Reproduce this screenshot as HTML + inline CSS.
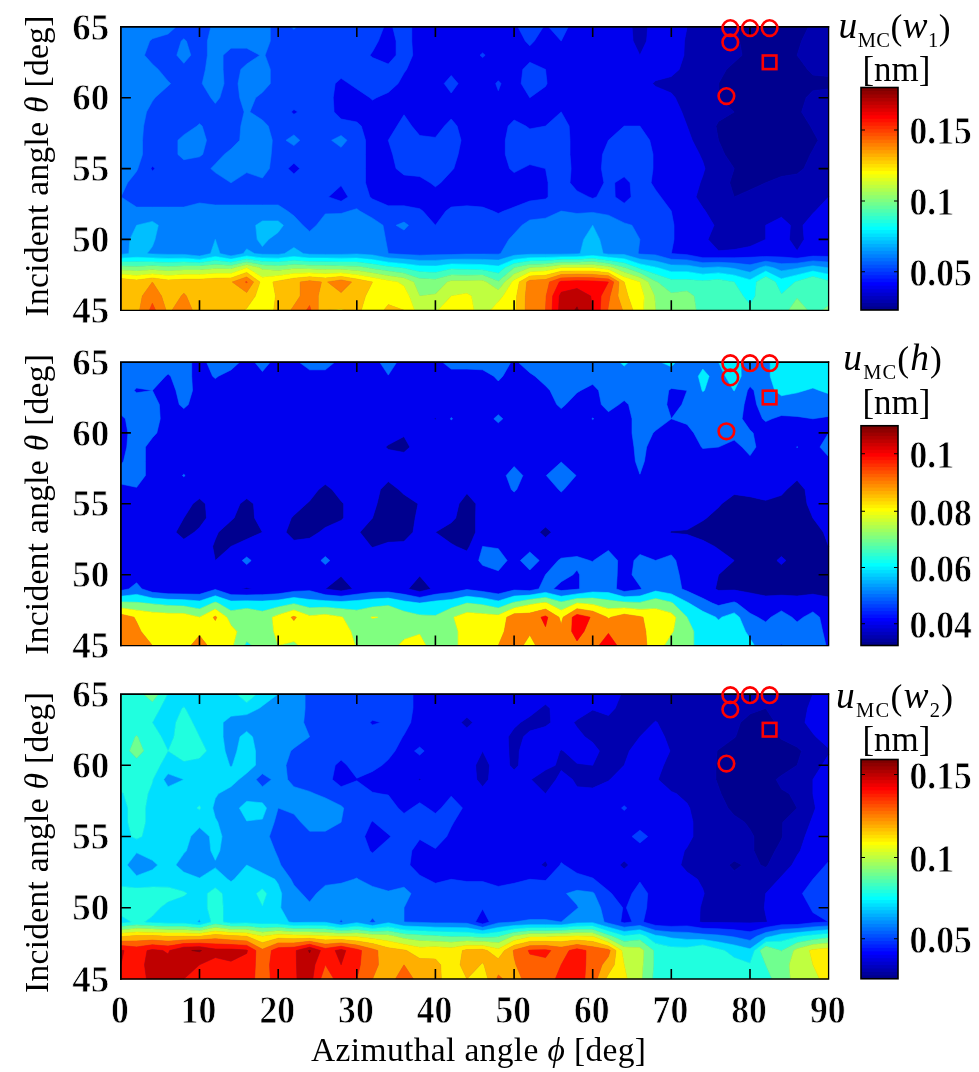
<!DOCTYPE html>
<html><head><meta charset="utf-8"><title>Uncertainty maps</title>
<style>html,body{margin:0;padding:0;background:#fff}svg{display:block}text{font-family:"Liberation Serif","Times New Roman",serif;fill:#000}.b{font-weight:bold;font-size:35.6px}.r{font-size:33.5px}.t{font-size:35px}.i{font-style:italic}.ti{font-style:italic;font-size:37.5px}</style></head><body>
<svg width="979" height="1072" viewBox="0 0 979 1072">
<rect width="979" height="1072" fill="#fff"/>
<g id="plot1">
<rect x="120.9" y="26.9" width="707.7" height="283.40000000000003" fill="#0030ff"/>
<path fill="#00008f" stroke="#00008f" stroke-width="0.6" fill-rule="evenodd" d="M734.2,196.9L750.0,189.9L765.7,182.8L781.4,176.5L797.1,173.9L803.9,168.6L810.3,154.4L812.9,149.7L818.1,140.3L812.9,130.8L810.3,126.1L801.6,111.9L806.1,97.7L812.9,90.7L828.6,88.9L828.6,83.6L828.6,76.5L812.9,75.1L807.6,69.4L797.1,55.2L801.6,41.1L808.4,26.9L797.1,26.9L781.4,26.9L765.7,26.9L750.0,26.9L737.4,26.9L739.5,41.1L742.1,55.2L734.2,62.3L726.4,69.4L718.5,83.6L718.5,97.7L734.2,111.9L718.5,121.4L715.9,126.1L718.5,140.3L724.8,154.4L734.2,168.6L729.7,182.8Z"/>
<path fill="#0000af" stroke="#0000af" stroke-width="0.6" fill-rule="evenodd" d="M718.5,250.8L734.2,249.6L750.0,246.5L765.7,239.4L765.7,225.3L781.4,217.2L790.4,225.3L789.3,239.4L797.1,250.8L804.1,239.4L803.0,225.3L812.9,213.5L815.5,211.1L828.6,196.9L828.6,182.8L828.6,168.6L828.6,154.4L828.6,140.3L828.6,126.1L828.6,111.9L828.6,97.7L828.6,88.9L812.9,90.7L806.1,97.7L801.6,111.9L810.3,126.1L812.9,130.8L818.1,140.3L812.9,149.7L810.3,154.4L803.9,168.6L797.1,173.9L781.4,176.5L765.7,182.8L750.0,189.9L734.2,196.9L729.7,182.8L734.2,168.6L724.8,154.4L718.5,140.3L715.9,126.1L718.5,121.4L734.2,111.9L718.5,97.7L718.5,83.6L726.4,69.4L734.2,62.3L742.1,55.2L739.5,41.1L737.4,26.9L734.2,26.9L718.5,26.9L702.8,26.9L687.1,26.9L684.4,41.1L683.9,55.2L679.2,69.4L671.3,76.5L655.6,80.7L652.5,83.6L655.6,86.4L671.3,93.0L675.3,97.7L681.8,111.9L687.1,126.1L692.3,140.3L699.6,154.4L702.8,161.5L705.0,168.6L702.8,175.7L700.2,182.8L696.0,196.9L702.8,207.6L705.4,211.1L714.0,225.3L708.0,239.4ZM812.9,75.1L828.6,76.5L828.6,69.4L828.6,55.2L828.6,41.1L828.6,26.9L812.9,26.9L808.4,26.9L801.6,41.1L797.1,55.2L807.6,69.4ZM639.9,55.2L646.6,41.1L647.7,26.9L639.9,26.9L632.0,26.9L633.1,41.1Z"/>
<path fill="#0000ef" stroke="#0000ef" stroke-width="0.6" fill-rule="evenodd" d="M671.3,253.6L687.1,254.7L702.8,257.7L718.5,257.7L734.2,257.8L750.0,257.3L765.7,256.5L781.4,257.0L797.1,258.2L812.9,256.1L828.6,256.5L828.6,253.6L828.6,239.4L828.6,225.3L828.6,211.1L828.6,196.9L815.5,211.1L812.9,213.5L803.0,225.3L804.1,239.4L797.1,250.8L789.3,239.4L790.4,225.3L781.4,217.2L765.7,225.3L765.7,239.4L750.0,246.5L734.2,249.6L718.5,250.8L708.0,239.4L714.0,225.3L705.4,211.1L702.8,207.6L696.0,196.9L700.2,182.8L702.8,175.7L705.0,168.6L702.8,161.5L699.6,154.4L692.3,140.3L687.1,126.1L681.8,111.9L675.3,97.7L671.3,93.0L655.6,86.4L652.5,83.6L655.6,80.7L671.3,76.5L679.2,69.4L683.9,55.2L684.4,41.1L687.1,26.9L671.3,26.9L655.6,26.9L647.7,26.9L646.6,41.1L639.9,55.2L633.1,41.1L632.0,26.9L624.2,26.9L608.4,26.9L592.7,26.9L577.0,26.9L568.2,26.9L561.2,41.1L548.7,26.9L545.5,26.9L543.3,26.9L534.3,41.1L529.8,45.8L525.3,41.1L518.0,26.9L514.1,26.9L498.3,26.9L482.6,26.9L466.9,26.9L451.2,26.9L435.4,26.9L419.7,26.9L411.8,26.9L411.8,41.1L412.7,55.2L406.6,69.4L404.0,73.0L398.1,83.6L388.3,92.4L376.5,97.7L372.5,100.1L369.9,97.7L356.8,88.9L348.9,83.6L341.1,78.3L335.2,83.6L333.2,97.7L334.1,111.9L341.1,119.0L356.8,122.0L361.3,126.1L365.5,140.3L365.5,154.4L365.5,168.6L365.5,182.8L369.9,196.9L372.5,199.0L388.3,205.8L404.0,205.8L419.7,208.7L422.9,211.1L435.4,225.3L445.9,211.1L451.2,207.1L466.9,205.8L482.6,207.1L493.1,211.1L498.3,213.5L503.6,211.1L514.1,207.1L529.8,201.0L545.5,199.0L548.1,196.9L548.1,182.8L545.5,168.6L529.8,164.6L521.9,168.6L514.1,172.6L509.6,168.6L505.3,154.4L505.3,140.3L508.2,126.1L514.1,120.0L525.9,126.1L529.8,128.9L545.5,126.1L561.2,111.9L569.1,126.1L570.0,140.3L570.0,154.4L571.1,168.6L570.0,182.8L577.0,190.9L588.8,196.9L592.7,198.4L596.6,196.9L603.9,182.8L601.4,168.6L602.5,154.4L608.4,140.3L624.2,126.1L639.9,126.1L649.7,140.3L653.0,154.4L653.0,168.6L651.1,182.8L655.6,189.9L660.8,196.9L671.3,211.1L674.0,225.3L674.0,239.4L671.3,253.6ZM430.2,182.8L419.7,176.5L404.0,174.9L396.1,168.6L392.7,154.4L388.3,140.3L397.0,126.1L404.0,114.8L411.8,126.1L419.7,135.5L435.4,137.4L444.4,126.1L451.2,119.0L457.1,126.1L461.0,140.3L458.1,154.4L453.8,168.6L451.2,171.4L440.7,182.8L435.4,186.8ZM444.2,83.6L451.2,75.5L458.1,83.6L451.2,93.0ZM495.7,83.6L498.3,80.7L501.0,83.6L498.3,90.7ZM521.2,83.6L522.8,69.4L529.8,62.3L545.5,69.4L547.1,83.6L545.5,86.4L529.8,97.7ZM480.0,55.2L482.6,52.9L485.2,55.2L482.6,57.6ZM341.1,201.3L348.1,196.9L341.1,185.6L328.5,196.9ZM624.2,203.2L631.1,196.9L630.1,182.8L624.2,176.7L614.7,182.8L615.2,196.9ZM152.4,171.0L155.0,168.6L152.4,166.2L151.0,168.6ZM293.9,173.9L299.8,168.6L293.9,163.3L288.0,168.6ZM293.9,114.3L297.8,111.9L293.9,109.6L291.3,111.9ZM372.5,57.6L388.3,64.1L396.1,55.2L396.1,41.1L392.7,26.9L388.3,26.9L383.8,26.9L378.4,41.1L372.5,51.7L369.9,55.2Z"/>
<path fill="#0040ff" stroke="#0040ff" stroke-width="0.6" fill-rule="evenodd" d="M388.3,253.6L404.0,254.5L419.7,255.2L435.4,254.8L451.2,254.6L466.9,254.1L482.6,254.1L498.3,254.2L500.6,253.6L508.8,239.4L514.1,233.8L521.9,225.3L529.8,220.0L545.5,218.2L561.2,211.1L577.0,213.5L592.7,212.4L608.4,215.2L624.2,222.9L632.0,225.3L639.9,239.4L638.1,253.6L639.9,254.1L655.6,254.9L671.3,259.3L687.1,259.9L702.8,262.7L718.5,262.3L734.2,263.1L750.0,264.8L765.7,261.2L781.4,263.7L797.1,263.2L812.9,260.9L828.6,262.1L828.6,256.5L812.9,256.1L797.1,258.2L781.4,257.0L765.7,256.5L750.0,257.3L734.2,257.8L718.5,257.7L702.8,257.7L687.1,254.7L671.3,253.6L674.0,239.4L674.0,225.3L671.3,211.1L660.8,196.9L655.6,189.9L651.1,182.8L653.0,168.6L653.0,154.4L649.7,140.3L639.9,126.1L624.2,126.1L608.4,140.3L602.5,154.4L601.4,168.6L603.9,182.8L596.6,196.9L592.7,198.4L588.8,196.9L577.0,190.9L570.0,182.8L571.1,168.6L570.0,154.4L570.0,140.3L569.1,126.1L561.2,111.9L545.5,126.1L529.8,128.9L525.9,126.1L514.1,120.0L508.2,126.1L505.3,140.3L505.3,154.4L509.6,168.6L514.1,172.6L521.9,168.6L529.8,164.6L545.5,168.6L548.1,182.8L548.1,196.9L545.5,199.0L529.8,201.0L514.1,207.1L503.6,211.1L498.3,213.5L493.1,211.1L482.6,207.1L466.9,205.8L451.2,207.1L445.9,211.1L435.4,225.3L422.9,211.1L419.7,208.7L404.0,205.8L388.3,205.8L372.5,199.0L369.9,196.9L365.5,182.8L365.5,168.6L365.5,154.4L365.5,140.3L361.3,126.1L356.8,122.0L341.1,119.0L334.1,111.9L333.2,97.7L335.2,83.6L341.1,78.3L348.9,83.6L356.8,88.9L369.9,97.7L372.5,100.1L376.5,97.7L388.3,92.4L398.1,83.6L404.0,73.0L406.6,69.4L412.7,55.2L411.8,41.1L411.8,26.9L404.0,26.9L392.7,26.9L396.1,41.1L396.1,55.2L388.3,64.1L372.5,57.6L369.9,55.2L372.5,51.7L378.4,41.1L383.8,26.9L372.5,26.9L356.8,26.9L341.1,26.9L325.3,26.9L309.6,26.9L296.5,26.9L293.9,29.3L291.3,26.9L278.2,26.9L270.3,26.9L270.3,41.1L265.1,55.2L270.3,69.4L270.3,83.6L262.4,92.4L255.7,97.7L249.9,111.9L262.4,120.0L268.3,126.1L272.3,140.3L271.2,154.4L269.4,168.6L262.4,178.0L246.7,172.6L231.0,182.8L215.3,172.6L210.8,168.6L215.3,163.9L224.2,154.4L231.0,149.1L239.7,140.3L240.8,126.1L244.1,111.9L239.7,97.7L238.0,83.6L240.8,69.4L246.7,64.1L259.8,55.2L246.7,48.2L231.0,48.2L223.1,55.2L223.1,69.4L224.0,83.6L219.8,97.7L215.3,103.4L210.8,97.7L202.2,83.6L205.4,69.4L207.4,55.2L207.4,41.1L210.8,26.9L199.5,26.9L183.8,26.9L175.9,26.9L168.1,34.0L152.4,38.7L149.7,41.1L144.5,55.2L152.4,64.1L158.3,69.4L168.1,81.2L170.7,83.6L168.1,85.9L155.0,97.7L152.4,101.3L146.5,111.9L143.6,126.1L142.5,140.3L142.5,154.4L137.9,168.6L136.6,171.4L127.6,182.8L120.9,196.9L136.6,207.1L152.4,207.1L168.1,207.1L183.8,207.1L199.5,203.0L215.3,205.0L231.0,205.0L246.7,205.0L262.4,205.0L278.2,205.0L287.6,211.1L293.9,215.8L302.9,225.3L309.6,231.4L316.4,225.3L325.3,213.9L341.1,213.5L348.9,211.1L356.8,208.7L359.9,211.1L372.5,218.2L383.0,225.3L385.6,239.4ZM396.1,225.3L404.0,222.1L408.5,225.3L404.0,230.0ZM328.5,196.9L341.1,185.6L348.1,196.9L341.1,201.3ZM615.2,196.9L614.7,182.8L624.2,176.7L630.1,182.8L631.1,196.9L624.2,203.2ZM151.0,168.6L152.4,166.2L155.0,168.6L152.4,171.0ZM288.0,168.6L293.9,163.3L299.8,168.6L293.9,173.9ZM177.9,154.4L177.9,140.3L183.8,134.9L196.9,126.1L199.5,123.7L202.2,126.1L206.5,140.3L202.7,154.4L199.5,156.8L183.8,159.7ZM286.0,140.3L293.9,134.9L299.8,140.3L293.9,145.6ZM331.6,140.3L341.1,135.5L347.0,140.3L341.1,147.3ZM291.3,111.9L293.9,109.6L297.8,111.9L293.9,114.3ZM176.8,55.2L181.2,41.1L183.8,38.7L186.4,41.1L190.8,55.2L183.8,63.3ZM435.4,186.8L440.7,182.8L451.2,171.4L453.8,168.6L458.1,154.4L461.0,140.3L457.1,126.1L451.2,119.0L444.4,126.1L435.4,137.4L419.7,135.5L411.8,126.1L404.0,114.8L397.0,126.1L388.3,140.3L392.7,154.4L396.1,168.6L404.0,174.9L419.7,176.5L430.2,182.8ZM451.2,93.0L458.1,83.6L451.2,75.5L444.2,83.6ZM498.3,90.7L501.0,83.6L498.3,80.7L495.7,83.6ZM529.8,97.7L545.5,86.4L547.1,83.6L545.5,69.4L529.8,62.3L522.8,69.4L521.2,83.6ZM482.6,57.6L485.2,55.2L482.6,52.9L480.0,55.2ZM529.8,45.8L534.3,41.1L543.3,26.9L529.8,26.9L518.0,26.9L525.3,41.1ZM561.2,41.1L568.2,26.9L561.2,26.9L548.7,26.9Z"/>
<path fill="#0080ff" stroke="#0080ff" stroke-width="0.6" fill-rule="evenodd" d="M702.8,267.8L718.5,266.9L729.0,267.8L734.2,268.5L750.0,272.3L759.4,267.8L765.7,265.9L773.6,267.8L781.4,270.9L797.1,268.4L800.3,267.8L812.9,265.8L828.6,267.8L828.6,262.1L812.9,260.9L797.1,263.2L781.4,263.7L765.7,261.2L750.0,264.8L734.2,263.1L718.5,262.3L702.8,262.7L687.1,259.9L671.3,259.3L655.6,254.9L639.9,254.1L638.1,253.6L639.9,239.4L632.0,225.3L624.2,222.9L608.4,215.2L592.7,212.4L577.0,213.5L561.2,211.1L545.5,218.2L529.8,220.0L521.9,225.3L514.1,233.8L508.8,239.5L500.6,253.6L498.3,254.2L482.6,254.1L466.9,254.1L451.2,254.6L435.4,254.8L419.7,255.2L404.0,254.5L388.3,253.6L385.6,239.4L383.0,225.3L372.5,218.2L359.9,211.1L356.8,208.7L348.9,211.1L341.1,213.5L325.3,213.9L316.4,225.3L309.6,231.4L302.9,225.3L293.9,215.8L287.6,211.1L278.2,205.0L262.4,205.0L246.7,205.0L231.0,205.0L215.3,205.0L199.5,203.0L183.8,207.1L168.1,207.1L152.4,207.1L136.6,207.1L120.9,196.9L120.9,211.1L120.9,225.3L120.9,239.4L120.9,253.6L120.9,254.4L128.8,253.6L129.9,239.4L136.6,225.3L152.4,221.4L158.3,225.3L155.0,239.4L152.4,246.5L147.1,253.6L152.4,254.0L168.1,254.4L183.8,254.4L199.5,256.0L210.5,253.6L215.3,239.4L220.0,253.6L231.0,255.9L243.2,253.6L246.7,248.9L254.6,253.6L262.4,254.3L278.2,254.4L284.5,253.6L293.9,247.5L303.3,253.6L309.6,254.3L325.3,254.4L341.1,254.4L356.8,254.0L372.5,255.0L388.3,257.9L404.0,259.1L419.7,260.4L435.4,260.4L451.2,259.3L466.9,259.2L482.6,259.4L498.3,260.1L514.1,255.3L529.8,254.3L545.5,254.3L561.2,254.2L577.0,253.9L580.1,253.6L583.7,239.4L592.7,225.3L599.7,239.4L603.2,253.6L608.4,254.2L624.2,254.5L639.9,259.0L655.6,261.0L671.3,265.0L687.1,265.2ZM257.2,239.4L255.7,225.3L262.4,221.0L278.2,221.0L283.4,225.3L278.2,232.4L268.7,239.4L262.4,246.5ZM404.0,230.0L408.5,225.3L404.0,222.1L396.1,225.3ZM127.6,182.8L136.6,171.4L137.9,168.6L142.5,154.4L142.5,140.3L143.6,126.1L146.5,111.9L152.4,101.3L155.0,97.7L168.1,85.9L170.7,83.6L168.1,81.2L158.3,69.4L152.4,64.1L144.5,55.2L149.7,41.1L152.4,38.7L168.1,34.0L175.9,26.9L168.1,26.9L152.4,26.9L136.6,26.9L120.9,26.9L120.9,41.1L120.9,55.2L120.9,69.4L120.9,83.6L120.9,97.7L120.9,111.9L120.9,126.1L120.9,140.3L120.9,154.4L120.9,168.6L120.9,182.8L120.9,196.9ZM215.3,172.6L231.0,182.8L246.7,172.6L262.4,178.0L269.4,168.6L271.2,154.4L272.3,140.3L268.3,126.1L262.4,120.0L249.9,111.9L255.7,97.7L262.4,92.4L270.3,83.6L270.3,69.4L265.1,55.2L270.3,41.1L270.3,26.9L262.4,26.9L246.7,26.9L231.0,26.9L215.3,26.9L210.8,26.9L207.4,41.1L207.4,55.2L205.4,69.4L202.2,83.6L210.8,97.7L215.3,103.4L219.8,97.7L224.0,83.6L223.1,69.4L223.1,55.2L231.0,48.2L246.7,48.2L259.8,55.2L246.7,64.1L240.8,69.4L238.0,83.6L239.7,97.7L244.1,111.9L240.8,126.1L239.7,140.3L231.0,149.1L224.2,154.4L215.3,163.9L210.8,168.6ZM183.8,159.7L199.5,156.8L202.7,154.4L206.5,140.3L202.2,126.1L199.5,123.7L196.9,126.1L183.8,134.9L177.9,140.3L177.9,154.4ZM293.9,145.6L299.8,140.3L293.9,134.9L286.0,140.3ZM341.1,147.3L347.0,140.3L341.1,135.5L331.6,140.3ZM183.8,63.3L190.8,55.2L186.4,41.1L183.8,38.7L181.2,41.1L176.8,55.2ZM293.9,29.3L296.5,26.9L293.9,26.9L291.3,26.9Z"/>
<path fill="#00bfff" stroke="#00bfff" stroke-width="0.6" fill-rule="evenodd" d="M671.3,271.7L687.1,271.7L702.8,274.2L718.5,272.9L734.2,275.2L750.0,279.7L765.7,271.1L781.4,278.8L797.1,274.9L812.9,271.1L828.6,274.2L828.6,267.8L812.9,265.8L800.3,267.8L797.1,268.4L781.4,270.9L773.6,267.8L765.7,265.9L759.4,267.8L750.0,272.3L734.2,268.5L729.0,267.8L718.5,266.9L702.8,267.8L687.1,265.2L671.3,265.0L655.6,261.0L639.9,259.0L624.2,254.5L608.4,254.2L603.2,253.6L599.7,239.4L592.7,225.3L583.7,239.4L580.1,253.6L577.0,253.9L561.2,254.2L545.5,254.3L529.8,254.3L514.1,255.3L498.3,260.1L482.6,259.4L466.9,259.2L451.2,259.3L435.4,260.4L419.7,260.4L404.0,259.1L388.3,257.9L372.5,255.0L356.8,254.0L341.1,254.4L325.3,254.4L309.6,254.3L303.3,253.6L293.9,247.5L284.5,253.6L278.2,254.4L262.4,254.3L254.6,253.6L246.7,248.9L243.2,253.6L231.0,255.9L220.0,253.6L215.3,239.4L210.5,253.6L199.5,256.0L183.8,254.4L168.1,254.4L152.4,254.0L147.1,253.6L152.4,246.5L155.0,239.4L158.3,225.3L152.4,221.4L136.6,225.3L129.9,239.4L128.8,253.6L120.9,254.4L120.9,258.2L136.6,257.3L152.4,257.9L168.1,258.5L183.8,258.2L199.5,259.4L215.3,256.5L231.0,259.1L246.7,256.0L262.4,257.9L278.2,258.2L293.9,256.5L309.6,258.0L325.3,258.1L341.1,258.2L356.8,258.1L372.5,259.6L388.3,262.2L404.0,263.7L419.7,265.7L435.4,266.1L451.2,264.0L466.9,264.2L482.6,264.6L498.3,266.0L514.1,259.5L529.8,257.7L545.5,257.5L561.2,256.9L577.0,256.7L592.7,255.5L608.4,257.3L624.2,258.8L639.9,263.9L655.6,267.2L658.2,267.8ZM262.4,246.5L268.7,239.4L278.2,232.4L283.4,225.3L278.2,221.0L262.4,221.0L255.7,225.3L257.2,239.5Z"/>
<path fill="#00ffff" stroke="#00ffff" stroke-width="0.6" fill-rule="evenodd" d="M750.0,304.6L755.2,296.1L756.4,282.0L765.7,276.5L775.5,282.0L781.4,294.1L794.9,282.0L797.1,281.3L812.9,276.5L828.6,280.7L828.6,274.2L812.9,271.1L797.1,274.9L781.4,278.8L765.7,271.1L750.0,279.7L734.2,275.2L718.5,272.9L702.8,274.2L687.1,271.7L671.3,271.7L658.2,267.8L655.6,267.2L639.9,263.9L624.2,258.8L608.4,257.3L592.7,255.5L577.0,256.7L561.2,256.9L545.5,257.5L529.8,257.7L514.1,259.5L498.3,266.0L482.6,264.6L466.9,264.2L451.2,264.0L435.4,266.1L419.7,265.7L404.0,263.7L388.3,262.2L372.5,259.6L356.8,258.1L341.1,258.2L325.3,258.1L309.6,258.0L293.9,256.5L278.2,258.2L262.4,257.9L246.7,256.0L231.0,259.1L215.3,256.5L199.5,259.4L183.8,258.2L168.1,258.5L152.4,257.9L136.6,257.3L120.9,258.2L120.9,262.0L136.6,261.8L152.4,261.9L168.1,262.5L183.8,262.0L199.5,262.7L215.3,260.5L231.0,262.3L246.7,258.9L262.4,261.4L278.2,262.0L293.9,260.5L309.6,261.6L325.3,261.8L341.1,262.0L356.8,262.1L372.5,264.1L388.3,266.5L400.0,267.8L404.0,268.3L419.7,271.8L435.4,272.5L451.2,269.0L466.9,269.5L482.6,269.9L498.3,273.3L504.8,267.8L514.1,263.6L529.8,261.0L545.5,260.7L561.2,259.6L577.0,259.5L592.7,258.5L608.4,260.4L624.2,263.1L637.5,267.8L639.9,268.7L655.6,274.2L671.3,279.6L687.1,279.6L702.8,280.7L718.5,279.4L734.2,282.0L743.2,296.1Z"/>
<path fill="#40ffbf" stroke="#40ffbf" stroke-width="0.6" fill-rule="evenodd" d="M702.8,310.3L718.5,310.3L734.2,310.3L750.0,310.3L765.7,310.3L781.4,310.3L788.6,310.3L797.1,298.2L807.6,310.3L812.9,310.3L822.3,310.3L828.6,305.6L828.6,296.1L828.6,282.0L828.6,280.7L812.9,276.5L797.1,281.3L794.9,282.0L781.4,294.1L775.5,282.0L765.7,276.5L756.4,282.0L755.2,296.1L750.0,304.6L743.2,296.1L734.2,282.0L718.5,279.4L702.8,280.7L687.1,279.6L671.3,279.6L655.6,274.2L639.9,268.7L637.5,267.8L624.2,263.1L608.4,260.4L592.7,258.5L577.0,259.5L561.2,259.6L545.5,260.7L529.8,261.0L514.1,263.6L504.8,267.8L498.3,273.3L482.6,269.9L466.9,269.5L451.2,269.0L435.4,272.5L419.7,271.8L404.0,268.3L400.0,267.8L388.3,266.5L372.5,264.1L356.8,262.1L341.1,262.0L325.3,261.8L309.6,261.6L293.9,260.5L278.2,262.0L262.4,261.4L246.7,258.9L231.0,262.3L215.3,260.5L199.5,262.7L183.8,262.0L168.1,262.5L152.4,261.9L136.6,261.8L120.9,262.0L120.9,265.9L136.6,266.4L152.4,265.8L168.1,266.6L183.8,265.9L199.5,266.1L215.3,264.6L231.0,265.5L246.7,261.9L262.4,265.0L278.2,265.9L293.9,264.6L309.6,265.2L325.3,265.6L341.1,265.9L356.8,266.2L367.3,267.8L372.5,268.7L388.3,271.1L404.0,273.2L419.7,278.6L435.4,279.3L451.2,274.9L466.9,275.2L482.6,275.1L498.3,281.2L514.1,267.8L529.8,264.4L545.5,263.9L561.2,262.3L577.0,262.2L592.7,261.6L608.4,263.5L624.2,267.4L625.4,267.8L639.9,273.1L655.6,281.3L657.6,282.0L671.3,293.0L687.1,291.0L694.0,296.1L696.2,310.3Z"/>
<path fill="#80ff80" stroke="#80ff80" stroke-width="0.6" fill-rule="evenodd" d="M419.7,296.1L435.4,294.1L447.2,282.0L451.2,280.8L466.9,280.8L482.6,280.4L486.5,282.0L498.3,289.9L504.8,282.0L514.1,274.0L529.8,267.8L545.5,267.1L561.2,265.1L577.0,265.0L592.7,264.7L608.4,266.6L613.3,267.8L624.2,272.2L639.9,277.5L648.2,282.0L654.6,296.1L655.6,310.3L671.3,310.3L687.1,310.3L696.2,310.3L694.0,296.1L687.1,291.0L671.3,293.0L657.6,282.0L655.6,281.3L639.9,273.1L625.4,267.8L624.2,267.4L608.4,263.5L592.7,261.6L577.0,262.2L561.2,262.3L545.5,263.9L529.8,264.4L514.1,267.8L498.3,281.2L482.6,275.1L466.9,275.2L451.2,274.9L435.4,279.3L419.7,278.6L404.0,273.2L388.3,271.1L372.5,268.7L367.3,267.8L356.8,266.2L341.1,265.9L325.3,265.6L309.6,265.2L293.9,264.6L278.2,265.9L262.4,265.0L246.7,261.9L231.0,265.5L215.3,264.6L199.5,266.1L183.8,265.9L168.1,266.6L152.4,265.8L136.6,266.4L120.9,265.9L120.9,267.8L120.9,269.9L136.6,271.0L152.4,269.8L168.1,271.0L183.8,270.1L199.5,270.1L215.3,268.7L231.0,269.1L234.6,267.8L246.7,264.8L259.8,267.8L262.4,269.4L278.2,270.4L293.9,268.7L309.6,269.0L325.3,269.5L341.1,269.5L356.8,270.4L372.5,273.1L388.3,275.8L404.0,278.1L413.7,282.0ZM797.1,310.3L807.6,310.3L797.1,298.2L788.6,310.3ZM828.6,310.3L828.6,305.6L822.3,310.3Z"/>
<path fill="#bfff40" stroke="#bfff40" stroke-width="0.6" fill-rule="evenodd" d="M419.7,310.3L435.4,310.3L438.1,310.3L451.2,296.1L466.9,293.3L471.4,296.1L473.9,310.3L482.6,310.3L490.5,310.3L498.3,301.4L503.1,296.1L511.9,282.0L514.1,280.1L529.8,272.0L545.5,271.1L561.2,267.8L577.0,267.8L592.7,267.8L608.4,269.6L624.2,277.1L639.9,282.0L644.1,296.1L643.5,310.3L655.6,310.3L654.6,296.1L648.2,282.0L639.9,277.5L624.2,272.2L613.3,267.8L608.4,266.6L592.7,264.7L577.0,265.0L561.2,265.1L545.5,267.1L529.8,267.8L514.1,274.0L504.8,282.0L498.3,289.9L486.5,282.0L482.6,280.4L466.9,280.8L451.2,280.8L447.2,282.0L435.4,294.1L419.7,296.1L413.7,282.0L404.0,278.1L388.3,275.8L372.5,273.1L356.8,270.4L341.1,269.5L325.3,269.5L309.6,269.0L293.9,268.7L278.2,270.4L262.4,269.4L259.8,267.8L246.7,264.8L234.6,267.8L231.0,269.1L215.3,268.7L199.5,270.1L183.8,270.1L168.1,271.0L152.4,269.8L136.6,271.0L120.9,269.9L120.9,274.2L136.6,275.6L152.4,273.9L168.1,275.6L183.8,274.6L199.5,274.6L215.3,273.5L231.0,273.5L246.7,267.8L262.4,277.2L278.2,275.7L293.9,273.5L309.6,272.9L325.3,273.8L341.1,273.0L356.8,274.7L372.5,277.5L388.3,280.5L397.7,282.0L404.0,286.0L409.2,296.1L414.5,310.3Z"/>
<path fill="#ffff00" stroke="#ffff00" stroke-width="0.6" fill-rule="evenodd" d="M246.7,310.3L262.4,310.3L273.7,310.3L275.5,296.1L272.9,282.0L278.2,280.9L293.9,278.2L309.6,276.8L325.3,278.1L341.1,276.4L356.8,279.0L372.5,282.0L365.5,296.1L361.3,310.3L372.5,310.3L383.8,310.3L388.3,304.6L404.0,310.3L414.5,310.3L409.2,296.1L404.0,286.0L397.7,282.0L388.3,280.5L372.5,277.5L356.8,274.7L341.1,273.0L325.3,273.8L309.6,272.9L293.9,273.5L278.2,275.7L262.4,277.2L246.7,267.8L231.0,273.5L215.3,273.5L199.5,274.6L183.8,274.6L168.1,275.6L152.4,273.9L136.6,275.6L120.9,274.2L120.9,278.5L136.6,280.1L152.4,277.9L168.1,280.1L183.8,279.2L199.5,279.2L215.3,278.2L231.0,278.0L246.7,272.4L259.9,282.0L255.3,296.1L246.7,308.3L244.1,310.3ZM325.3,310.3L341.1,310.3L346.3,310.3L341.1,308.7L325.3,310.3ZM451.2,310.3L466.9,310.3L473.9,310.3L471.4,296.1L466.9,293.3L451.2,296.1L438.1,310.3ZM498.3,310.3L514.1,310.3L515.9,310.3L516.7,296.1L519.3,282.0L529.8,276.1L545.5,275.3L561.2,271.2L577.0,271.0L592.7,271.1L608.4,272.7L624.2,282.0L628.1,296.1L633.0,310.3L639.9,310.3L643.5,310.3L644.1,296.1L639.9,282.0L624.2,277.1L608.4,269.6L592.7,267.8L577.0,267.8L561.2,267.8L545.5,271.1L529.8,272.0L514.1,280.1L511.9,282.0L503.1,296.1L498.3,301.4L490.5,310.3Z"/>
<path fill="#ffbf00" stroke="#ffbf00" stroke-width="0.6" fill-rule="evenodd" d="M136.6,310.3L139.6,310.3L142.3,296.1L152.4,282.0L161.5,296.1L166.0,310.3L168.1,310.3L172.0,310.3L181.2,296.1L183.8,293.3L186.4,296.1L192.4,310.3L199.5,310.3L215.3,310.3L231.0,310.3L244.1,310.3L246.7,308.3L255.3,296.1L259.9,282.0L246.7,272.4L231.0,278.0L215.3,278.2L199.5,279.2L183.8,279.2L168.1,280.1L152.4,277.9L136.6,280.1L120.9,278.5L120.9,282.0L120.9,296.1L120.9,310.3ZM232.3,282.0L246.7,276.9L253.6,282.0L246.7,292.4ZM278.2,310.3L290.7,310.3L293.9,305.6L300.2,296.1L300.2,282.0L309.6,280.8L321.4,282.0L318.2,296.1L318.2,310.3L325.3,310.3L341.1,308.7L346.3,310.3L356.8,310.3L361.3,310.3L365.5,296.1L372.5,282.0L356.8,279.0L341.1,276.4L325.3,278.1L309.6,276.8L293.9,278.2L278.2,280.9L272.9,282.0L275.5,296.1L273.7,310.3ZM327.6,282.0L341.1,279.9L351.6,282.0L341.1,292.6ZM388.3,310.3L404.0,310.3L388.3,304.6L383.8,310.3ZM525.4,296.1L526.8,282.0L529.8,280.3L545.5,279.5L561.2,274.5L577.0,274.2L592.7,274.4L608.4,275.8L618.9,282.0L617.9,296.1L622.6,310.3L624.2,310.3L633.0,310.3L628.1,296.1L624.2,282.0L608.4,272.7L592.7,271.1L577.0,271.0L561.2,271.2L545.5,275.3L529.8,276.1L519.3,282.0L516.7,296.1L515.9,310.3L525.2,310.3Z"/>
<path fill="#ff8000" stroke="#ff8000" stroke-width="0.6" fill-rule="evenodd" d="M152.4,303.2L155.5,310.3L166.0,310.3L161.5,296.1L152.4,282.0L142.3,296.1L139.6,310.3L149.4,310.3ZM183.8,310.3L192.4,310.3L186.4,296.1L183.8,293.3L181.2,296.1L172.0,310.3ZM293.9,310.3L306.5,310.3L309.6,305.6L311.0,310.3L318.2,310.3L318.2,296.1L321.4,282.0L309.6,280.8L300.2,282.0L300.2,296.1L293.9,305.6L290.7,310.3ZM529.8,310.3L545.5,310.3L546.2,296.1L549.5,282.0L561.2,277.9L577.0,277.5L592.7,277.7L608.4,278.9L613.7,282.0L610.0,296.1L608.4,305.6L607.7,310.3L608.4,310.3L622.6,310.3L617.9,296.1L618.9,282.0L608.4,275.8L592.7,274.4L577.0,274.2L561.2,274.5L545.5,279.5L529.8,280.3L526.8,282.0L525.4,296.1L525.2,310.3ZM246.7,292.4L253.6,282.0L246.7,276.9L232.3,282.0ZM245.4,282.0L246.7,281.5L247.3,282.0L246.7,282.9ZM341.1,292.6L351.6,282.0L341.1,279.9L327.6,282.0Z"/>
<path fill="#ff4000" stroke="#ff4000" stroke-width="0.6" fill-rule="evenodd" d="M152.4,310.3L155.5,310.3L152.4,303.2L149.4,310.3ZM309.6,310.3L311.0,310.3L309.6,305.6L306.5,310.3ZM552.7,296.1L559.3,282.0L561.2,281.3L577.0,280.7L592.7,281.0L608.4,282.0L601.0,296.1L600.2,310.3L607.7,310.3L608.4,305.6L610.0,296.1L613.7,282.0L608.4,278.9L592.7,277.7L577.0,277.5L561.2,277.9L549.5,282.0L546.2,296.1L545.5,310.3L552.1,310.3ZM246.7,282.9L247.3,282.0L246.7,281.5L245.4,282.0Z"/>
<path fill="#ff0000" stroke="#ff0000" stroke-width="0.6" fill-rule="evenodd" d="M559.3,296.1L561.2,292.3L577.0,288.5L590.7,296.1L592.7,310.3L600.2,310.3L601.0,296.1L608.4,282.0L592.7,281.0L577.0,280.7L561.2,281.3L559.3,282.0L552.7,296.1L552.1,310.3L558.6,310.3Z"/>
<path fill="#bf0000" stroke="#bf0000" stroke-width="0.6" fill-rule="evenodd" d="M561.2,310.3L574.7,310.3L577.0,306.8L578.4,310.3L592.7,310.3L590.7,296.1L577.0,288.5L561.2,292.3L559.3,296.1L558.6,310.3Z"/>
<path fill="#800000" stroke="#800000" stroke-width="0.6" fill-rule="evenodd" d="M577.0,310.3L578.4,310.3L577.0,306.8L574.7,310.3Z"/>
<path d="M199.5,310.3v-10M199.5,26.9v10M278.2,310.3v-10M278.2,26.9v10M356.8,310.3v-10M356.8,26.9v10M435.4,310.3v-10M435.4,26.9v10M514.1,310.3v-10M514.1,26.9v10M592.7,310.3v-10M592.7,26.9v10M671.3,310.3v-10M671.3,26.9v10M750.0,310.3v-10M750.0,26.9v10M120.9,239.4h10M828.6,239.4h-10M120.9,168.6h10M828.6,168.6h-10M120.9,97.8h10M828.6,97.8h-10" stroke="#000" stroke-width="1.6" fill="none"/>
<path d="M120.9,310.95V26.9H829.2" fill="none" stroke="#000" stroke-width="1.8" stroke-linejoin="miter"/>
<path d="M120.0,310.3H828.6V26.0" fill="none" stroke="#000" stroke-width="1.3" stroke-linejoin="miter"/>
<g fill="none" stroke="#ff0000" stroke-width="2.6"><circle cx="730.3" cy="28.1" r="7.8"/><circle cx="750.0" cy="28.1" r="7.8"/><circle cx="769.6" cy="28.1" r="7.8"/><circle cx="730.3" cy="42.3" r="7.8"/><circle cx="726.4" cy="96.1" r="7.8"/><rect x="762.8" y="55.5" width="13.6" height="13.6"/></g>
<text class="b" transform="translate(109.2,322.9) scale(1.04,1.08)" text-anchor="end" stroke="#fff" stroke-width="0.7">45</text>
<text class="b" transform="translate(109.2,252.0) scale(1.04,1.08)" text-anchor="end" stroke="#fff" stroke-width="0.7">50</text>
<text class="b" transform="translate(109.2,181.2) scale(1.04,1.08)" text-anchor="end" stroke="#fff" stroke-width="0.7">55</text>
<text class="b" transform="translate(109.2,110.3) scale(1.04,1.08)" text-anchor="end" stroke="#fff" stroke-width="0.7">60</text>
<text class="b" transform="translate(109.2,39.5) scale(1.04,1.08)" text-anchor="end" stroke="#fff" stroke-width="0.7">65</text>
<text class="r" transform="translate(47.5,166.1) rotate(-90)" x="-150.4" textLength="300.8" lengthAdjust="spacing">Incident angle <tspan class="i">θ</tspan> [deg]</text>
<rect x="861" y="87.5" width="37" height="222.50" fill="#00008f"/><rect x="861" y="87.5" width="37" height="219.02" fill="#00009f"/><rect x="861" y="87.5" width="37" height="215.55" fill="#0000af"/><rect x="861" y="87.5" width="37" height="212.07" fill="#0000bf"/><rect x="861" y="87.5" width="37" height="208.59" fill="#0000cf"/><rect x="861" y="87.5" width="37" height="205.12" fill="#0000df"/><rect x="861" y="87.5" width="37" height="201.64" fill="#0000ef"/><rect x="861" y="87.5" width="37" height="198.16" fill="#0000ff"/><rect x="861" y="87.5" width="37" height="194.69" fill="#0010ff"/><rect x="861" y="87.5" width="37" height="191.21" fill="#0020ff"/><rect x="861" y="87.5" width="37" height="187.73" fill="#0030ff"/><rect x="861" y="87.5" width="37" height="184.26" fill="#0040ff"/><rect x="861" y="87.5" width="37" height="180.78" fill="#0050ff"/><rect x="861" y="87.5" width="37" height="177.30" fill="#0060ff"/><rect x="861" y="87.5" width="37" height="173.83" fill="#0070ff"/><rect x="861" y="87.5" width="37" height="170.35" fill="#0080ff"/><rect x="861" y="87.5" width="37" height="166.88" fill="#008fff"/><rect x="861" y="87.5" width="37" height="163.40" fill="#009fff"/><rect x="861" y="87.5" width="37" height="159.92" fill="#00afff"/><rect x="861" y="87.5" width="37" height="156.45" fill="#00bfff"/><rect x="861" y="87.5" width="37" height="152.97" fill="#00cfff"/><rect x="861" y="87.5" width="37" height="149.49" fill="#00dfff"/><rect x="861" y="87.5" width="37" height="146.02" fill="#00efff"/><rect x="861" y="87.5" width="37" height="142.54" fill="#00ffff"/><rect x="861" y="87.5" width="37" height="139.06" fill="#10ffef"/><rect x="861" y="87.5" width="37" height="135.59" fill="#20ffdf"/><rect x="861" y="87.5" width="37" height="132.11" fill="#30ffcf"/><rect x="861" y="87.5" width="37" height="128.63" fill="#40ffbf"/><rect x="861" y="87.5" width="37" height="125.16" fill="#50ffaf"/><rect x="861" y="87.5" width="37" height="121.68" fill="#60ff9f"/><rect x="861" y="87.5" width="37" height="118.20" fill="#70ff8f"/><rect x="861" y="87.5" width="37" height="114.73" fill="#80ff80"/><rect x="861" y="87.5" width="37" height="111.25" fill="#8fff70"/><rect x="861" y="87.5" width="37" height="107.77" fill="#9fff60"/><rect x="861" y="87.5" width="37" height="104.30" fill="#afff50"/><rect x="861" y="87.5" width="37" height="100.82" fill="#bfff40"/><rect x="861" y="87.5" width="37" height="97.34" fill="#cfff30"/><rect x="861" y="87.5" width="37" height="93.87" fill="#dfff20"/><rect x="861" y="87.5" width="37" height="90.39" fill="#efff10"/><rect x="861" y="87.5" width="37" height="86.91" fill="#ffff00"/><rect x="861" y="87.5" width="37" height="83.44" fill="#ffef00"/><rect x="861" y="87.5" width="37" height="79.96" fill="#ffdf00"/><rect x="861" y="87.5" width="37" height="76.48" fill="#ffcf00"/><rect x="861" y="87.5" width="37" height="73.01" fill="#ffbf00"/><rect x="861" y="87.5" width="37" height="69.53" fill="#ffaf00"/><rect x="861" y="87.5" width="37" height="66.05" fill="#ff9f00"/><rect x="861" y="87.5" width="37" height="62.58" fill="#ff8f00"/><rect x="861" y="87.5" width="37" height="59.10" fill="#ff8000"/><rect x="861" y="87.5" width="37" height="55.62" fill="#ff7000"/><rect x="861" y="87.5" width="37" height="52.15" fill="#ff6000"/><rect x="861" y="87.5" width="37" height="48.67" fill="#ff5000"/><rect x="861" y="87.5" width="37" height="45.20" fill="#ff4000"/><rect x="861" y="87.5" width="37" height="41.72" fill="#ff3000"/><rect x="861" y="87.5" width="37" height="38.24" fill="#ff2000"/><rect x="861" y="87.5" width="37" height="34.77" fill="#ff1000"/><rect x="861" y="87.5" width="37" height="31.29" fill="#ff0000"/><rect x="861" y="87.5" width="37" height="27.81" fill="#ef0000"/><rect x="861" y="87.5" width="37" height="24.34" fill="#df0000"/><rect x="861" y="87.5" width="37" height="20.86" fill="#cf0000"/><rect x="861" y="87.5" width="37" height="17.38" fill="#bf0000"/><rect x="861" y="87.5" width="37" height="13.91" fill="#af0000"/><rect x="861" y="87.5" width="37" height="10.43" fill="#9f0000"/><rect x="861" y="87.5" width="37" height="6.95" fill="#8f0000"/><rect x="861" y="87.5" width="37" height="3.48" fill="#800000"/>
<text class="b" transform="translate(909.5,144.3) scale(1.0,1.13)" text-anchor="start" stroke="#fff" stroke-width="0.7">0.15</text>
<text class="b" transform="translate(909.5,215.3) scale(1.0,1.13)" text-anchor="start" stroke="#fff" stroke-width="0.7">0.1</text>
<text class="b" transform="translate(909.5,286.1) scale(1.0,1.13)" text-anchor="start" stroke="#fff" stroke-width="0.7">0.05</text>
<path d="M861,130h4M898,130h-4M861,201h4M898,201h-4M861,271.75h4M898,271.75h-4" stroke="#000" stroke-width="1.2" fill="none"/>
<rect x="861" y="87.5" width="37" height="222.5" fill="none" stroke="#000" stroke-width="1.6"/>
<text class="t" x="838.5" y="37.7" textLength="112" lengthAdjust="spacing"><tspan class="ti">u</tspan><tspan font-size="20.5" dy="9.2">MC</tspan><tspan dy="-8" font-size="35.5">(</tspan><tspan class="ti" dy="-1.2">w</tspan><tspan font-size="20.5" dy="9.2">1</tspan><tspan dy="-8" font-size="35.5">)</tspan></text>
<text class="t" x="896.5" y="80.6" text-anchor="middle">[nm]</text>
</g>
<g id="plot2">
<rect x="120.9" y="362.05" width="707.7" height="283.55" fill="#0030ff"/>
<path fill="#00008f" stroke="#00008f" stroke-width="0.6" fill-rule="evenodd" d="M246.7,589.2L252.0,588.9L246.7,587.6L241.5,588.9ZM325.3,588.9L341.1,591.0L352.5,588.9L341.1,576.3L325.3,588.9ZM419.7,591.7L430.9,588.9L419.7,576.0L408.5,588.9ZM718.5,590.5L734.2,590.1L750.0,592.9L765.7,596.0L781.4,595.2L797.1,596.0L812.9,594.2L828.6,597.0L828.6,588.9L828.6,574.7L828.6,560.5L828.6,546.4L823.4,532.2L812.9,518.0L807.0,503.8L805.0,489.6L797.1,480.2L786.7,489.6L781.4,495.3L765.7,500.3L750.0,496.7L734.2,494.4L721.7,503.8L718.5,507.4L706.7,518.0L702.8,520.8L687.1,529.8L671.3,530.9L669.6,532.2L671.3,533.1L687.1,534.5L702.8,540.3L714.6,546.4L718.5,549.2L734.2,560.5L718.5,574.7L715.4,588.9ZM776.9,560.5L781.4,556.5L785.9,560.5L781.4,564.6ZM215.3,560.5L231.0,546.4L246.7,539.3L262.4,532.2L254.6,518.0L253.5,503.8L246.7,498.5L240.0,503.8L234.1,518.0L231.0,520.8L218.4,532.2L215.3,539.3L212.6,546.4ZM372.5,547.6L375.7,546.4L388.3,542.3L404.0,541.6L413.0,532.2L415.2,518.0L418.0,503.8L404.0,494.4L398.7,489.6L388.3,481.5L380.4,489.6L377.0,503.8L372.5,518.0L359.9,532.2L371.1,546.4ZM466.9,551.1L469.5,546.4L475.6,532.2L475.6,518.0L475.9,503.8L466.9,493.5L459.0,503.8L455.7,518.0L451.2,522.7L435.4,532.2L451.2,543.5L456.4,546.4ZM183.8,539.3L194.3,532.2L199.5,527.5L206.5,518.0L205.4,503.8L199.5,498.5L192.8,503.8L183.8,518.0L175.9,532.2ZM293.9,540.3L309.6,538.3L319.1,532.2L325.3,527.5L341.1,520.4L343.7,518.0L343.7,503.8L341.1,501.0L332.1,489.6L325.3,484.3L318.6,489.6L309.6,501.0L306.5,503.8L293.9,515.2L291.3,518.0L286.0,532.2ZM545.5,537.5L551.4,532.2L545.5,526.9L539.6,532.2ZM388.3,449.5L404.0,452.4L409.9,447.1L404.0,436.5L388.3,444.8L385.6,447.1ZM435.4,420.0L436.1,418.8L435.4,417.5L434.0,418.8Z"/>
<path fill="#0000ef" stroke="#0000ef" stroke-width="0.6" fill-rule="evenodd" d="M781.4,645.6L782.8,645.6L781.4,644.0L780.0,645.6ZM828.6,645.6L828.6,631.4L828.6,617.2L828.6,603.1L828.6,597.0L812.9,594.2L797.1,596.0L781.4,595.2L765.7,596.0L750.0,592.9L734.2,590.1L718.5,590.5L715.4,588.9L718.5,574.7L734.2,560.5L718.5,549.2L714.6,546.4L702.8,540.3L687.1,534.5L671.3,533.1L669.6,532.2L671.3,530.9L687.1,529.8L702.8,520.8L706.7,518.0L718.5,507.4L721.7,503.8L734.2,494.4L750.0,496.7L765.7,500.3L781.4,495.3L786.7,489.6L797.1,480.2L805.0,489.6L807.0,503.8L812.9,518.0L823.4,532.2L828.6,546.4L828.6,532.2L828.6,518.0L828.6,503.8L828.6,489.6L828.6,475.5L828.6,461.3L828.6,456.6L820.0,447.1L828.6,432.9L828.6,418.8L828.6,416.4L812.9,418.8L797.1,416.4L781.4,415.5L772.0,418.8L765.7,421.6L762.5,418.8L756.7,404.6L753.9,390.4L750.0,386.4L747.4,390.4L744.1,404.6L742.1,418.8L750.0,430.1L753.1,432.9L755.9,447.1L750.0,455.6L742.1,447.1L734.2,440.0L718.5,447.1L702.8,448.4L701.4,447.1L693.8,432.9L687.1,424.4L671.3,418.8L681.8,404.6L687.1,390.4L671.3,388.4L668.7,390.4L666.8,404.6L671.3,418.8L655.6,430.6L653.0,432.9L646.6,447.1L644.4,461.3L639.9,474.2L635.4,461.3L634.0,447.1L632.0,432.9L632.0,418.8L628.6,404.6L624.2,400.5L618.9,404.6L608.4,411.7L601.4,404.6L598.6,390.4L592.7,384.3L580.9,390.4L577.0,392.8L565.7,404.6L561.2,408.6L556.8,404.6L550.0,390.4L545.5,385.7L535.0,376.2L529.8,372.7L518.0,362.1L514.1,362.1L510.9,362.1L502.8,376.2L498.3,381.0L493.8,376.2L482.6,369.8L466.9,369.1L451.2,369.1L442.4,362.1L435.4,362.1L419.7,362.1L404.0,362.1L396.8,362.1L388.3,375.1L379.7,362.1L372.5,362.1L356.8,362.1L341.1,362.1L334.8,362.1L325.3,369.8L309.6,369.8L299.1,362.1L293.9,362.1L278.2,362.1L270.3,362.1L262.4,371.5L254.6,362.1L246.7,362.1L239.7,362.1L231.0,369.9L218.4,376.2L215.3,378.6L212.6,376.2L206.5,362.1L199.5,362.1L191.7,362.1L191.7,376.2L192.5,390.4L188.3,404.6L183.8,408.6L179.3,404.6L175.9,390.4L170.7,376.2L168.1,373.9L165.5,376.2L152.4,390.4L136.6,388.0L134.0,390.4L136.6,392.8L152.4,390.4L159.3,404.6L160.2,418.8L156.8,432.9L152.4,437.7L145.4,447.1L145.4,461.3L145.4,475.5L136.6,487.3L120.9,484.0L120.9,489.6L120.9,503.8L120.9,518.0L120.9,532.2L120.9,546.4L120.9,560.5L120.9,574.7L120.9,588.9L120.9,590.6L128.8,588.9L136.6,582.8L141.9,588.9L152.4,592.3L168.1,593.8L183.8,594.0L199.5,594.3L215.3,589.5L231.0,594.7L246.7,595.0L262.4,594.7L278.2,593.8L293.9,591.4L309.6,590.7L325.3,594.8L341.1,596.2L356.8,594.2L372.5,592.3L388.3,592.0L404.0,594.3L419.7,597.4L435.4,594.3L451.2,592.4L466.9,589.6L482.6,591.5L498.3,593.9L514.1,590.1L529.8,590.7L538.8,588.9L545.5,574.7L558.1,560.5L561.2,558.2L577.0,556.5L589.6,560.5L592.7,561.8L593.7,560.5L608.4,550.6L617.6,560.5L617.2,574.7L616.3,588.9L624.2,591.5L639.9,589.5L641.8,588.9L639.9,586.1L632.0,574.7L634.0,560.5L639.9,554.5L655.6,560.5L671.3,554.9L675.8,560.5L679.2,574.7L681.8,588.9L687.1,591.1L702.8,598.3L712.2,603.1L718.5,605.6L729.0,603.1L734.2,601.9L736.9,603.1L750.0,613.2L757.8,617.2L765.7,622.0L770.9,617.2L781.4,610.9L791.9,617.2L797.1,622.0L803.4,617.2L812.9,611.9L819.6,617.2L822.7,631.4L826.0,645.6ZM241.5,588.9L246.7,587.6L252.0,588.9L246.7,589.2ZM325.3,588.9L341.1,576.3L352.5,588.9L341.1,591.0ZM408.5,588.9L419.7,576.0L430.9,588.9L419.7,591.7ZM215.3,560.5L212.6,546.4L215.3,539.3L218.4,532.2L231.0,520.8L234.1,518.0L240.0,503.8L246.7,498.5L253.5,503.8L254.6,518.0L262.4,532.2L246.7,539.3L231.0,546.4L215.3,560.5ZM242.2,560.5L246.7,557.0L251.2,560.5L246.7,564.6ZM320.9,560.5L325.3,556.5L329.8,560.5L325.3,564.6ZM478.7,560.5L482.6,546.4L498.3,548.7L507.1,560.5L498.3,570.7L482.6,565.3ZM520.4,560.5L529.8,552.0L539.2,560.5L529.8,570.0ZM371.1,546.4L359.9,532.2L372.5,518.0L377.0,503.8L380.4,489.6L388.3,481.5L398.7,489.6L404.0,494.4L418.0,503.8L415.2,518.0L413.0,532.2L404.0,541.6L388.3,542.3L375.7,546.4L372.5,547.6ZM456.4,546.4L451.2,543.5L435.4,532.2L451.2,522.7L455.7,518.0L459.0,503.8L466.9,493.5L475.9,503.8L475.6,518.0L475.6,532.2L469.5,546.4L466.9,551.1ZM175.9,532.2L183.8,518.0L192.8,503.8L199.5,498.5L205.4,503.8L206.5,518.0L199.5,527.5L194.3,532.2L183.8,539.3ZM286.0,532.2L291.3,518.0L293.9,515.2L306.5,503.8L309.6,501.0L318.6,489.6L325.3,484.3L332.1,489.6L341.1,501.0L343.7,503.8L343.7,518.0L341.1,520.4L325.3,527.5L319.1,532.2L309.6,538.3L293.9,540.3ZM539.6,532.2L545.5,526.9L551.4,532.2L545.5,537.5ZM511.4,489.6L506.2,475.5L514.1,466.6L522.8,475.5L516.7,489.6L514.1,492.0ZM558.6,489.6L546.4,475.5L561.2,462.1L576.0,475.5L563.9,489.6L561.2,492.0ZM182.4,475.5L183.8,474.2L185.2,475.5L183.8,476.8ZM385.6,447.1L388.3,444.8L404.0,436.5L409.9,447.1L404.0,452.4L388.3,449.5ZM796.5,447.1L797.1,446.6L797.8,447.1L797.1,447.7ZM434.0,418.8L435.4,417.5L436.1,418.8L435.4,420.0ZM450.4,418.8L451.2,417.5L452.6,418.8L451.2,420.0ZM493.8,418.8L498.3,414.7L502.8,418.8L498.3,422.8ZM591.8,418.8L592.7,418.0L593.8,418.8L592.7,419.6ZM561.2,590.6L577.0,589.3L579.6,588.9L579.6,574.7L577.0,570.0L573.0,574.7L561.2,581.8L553.4,588.9ZM781.4,564.6L785.9,560.5L781.4,556.5L776.9,560.5ZM123.5,461.3L126.8,447.1L127.9,432.9L125.4,418.8L120.9,414.7L120.9,418.8L120.9,432.9L120.9,447.1L120.9,461.3L120.9,464.8Z"/>
<path fill="#0070ff" stroke="#0070ff" stroke-width="0.6" fill-rule="evenodd" d="M750.0,638.5L754.5,645.6L765.7,645.6L780.0,645.6L781.4,644.0L782.8,645.6L797.1,645.6L812.9,645.6L826.0,645.6L822.7,631.4L819.6,617.2L812.9,611.9L803.4,617.2L797.1,622.0L791.9,617.2L781.4,610.9L770.9,617.2L765.7,622.0L757.8,617.2L750.0,613.2L736.9,603.1L734.2,601.9L729.0,603.1L718.5,605.6L712.2,603.1L702.8,598.3L687.1,591.1L681.8,588.9L679.2,574.7L675.8,560.5L671.3,554.9L655.6,560.5L639.9,554.5L634.0,560.5L632.0,574.7L639.9,586.1L641.8,588.9L639.9,589.5L624.2,591.5L616.3,588.9L617.2,574.7L617.6,560.5L608.4,550.6L593.7,560.5L592.7,561.8L589.6,560.5L577.0,556.5L561.2,558.2L558.1,560.5L545.5,574.7L538.8,588.9L529.8,590.7L514.1,590.1L498.3,593.9L482.6,591.5L466.9,589.6L451.2,592.4L435.4,594.3L419.7,597.4L404.0,594.3L388.3,592.0L372.5,592.3L356.8,594.2L341.1,596.2L325.3,594.8L309.6,590.7L293.9,591.4L278.2,593.8L262.4,594.7L246.7,595.0L231.0,594.7L215.3,589.5L199.5,594.3L183.8,594.0L168.1,593.8L152.4,592.3L141.9,588.9L136.6,582.8L128.8,588.9L120.9,590.6L120.9,596.3L136.6,594.4L152.4,598.0L168.1,599.3L183.8,599.7L199.5,601.0L215.3,595.8L231.0,601.1L246.7,600.8L262.4,601.1L278.2,600.0L293.9,597.5L309.6,599.5L325.3,600.7L341.1,601.5L356.8,600.5L372.5,599.0L388.3,598.1L404.0,601.0L419.7,603.1L435.4,601.0L451.2,599.5L466.9,596.3L482.6,597.9L498.3,600.9L514.1,596.1L529.8,595.1L545.5,592.4L561.2,596.3L577.0,593.9L592.7,592.0L608.4,592.6L624.2,596.8L639.9,596.0L655.6,591.1L671.3,593.9L687.1,602.0L689.0,603.1L702.8,611.3L715.9,617.2L718.5,620.1L721.7,617.2L734.2,612.9L739.5,617.2L745.5,631.4ZM553.4,588.9L561.2,581.8L573.0,574.7L577.0,570.0L579.6,574.7L579.6,588.9L577.0,589.3L561.2,590.6ZM246.7,564.6L251.2,560.5L246.7,557.0L242.2,560.5ZM325.3,564.6L329.8,560.5L325.3,556.5L320.9,560.5ZM482.6,565.3L498.3,570.7L507.1,560.5L498.3,548.7L482.6,546.4L478.7,560.5ZM529.8,570.0L539.2,560.5L529.8,552.0L520.4,560.5ZM514.1,492.0L516.7,489.6L522.8,475.5L514.1,466.6L506.2,475.5L511.4,489.6ZM561.2,492.0L563.9,489.6L576.0,475.5L561.2,462.1L546.4,475.5L558.6,489.6ZM136.6,487.3L145.4,475.5L145.4,461.3L145.4,447.1L152.4,437.7L156.8,432.9L160.2,418.8L159.3,404.6L152.4,390.4L136.6,392.8L134.0,390.4L136.6,388.0L152.4,390.4L165.5,376.2L168.1,373.9L170.7,376.2L175.9,390.4L179.3,404.6L183.8,408.6L188.3,404.6L192.5,390.4L191.7,376.2L191.7,362.1L183.8,362.1L168.1,362.1L152.4,362.1L136.6,362.1L120.9,362.1L120.9,376.2L120.9,390.4L120.9,404.6L120.9,414.7L125.4,418.8L127.9,432.9L126.8,447.1L123.5,461.3L120.9,464.8L120.9,475.5L120.9,484.0ZM183.8,476.8L185.2,475.5L183.8,474.2L182.4,475.5ZM639.9,474.2L644.4,461.3L646.6,447.1L653.0,432.9L655.6,430.6L671.3,418.8L666.8,404.6L668.7,390.4L671.3,388.4L687.1,390.4L681.8,404.6L671.3,418.8L687.1,424.4L693.8,432.9L701.4,447.1L702.8,448.4L718.5,447.1L734.2,440.0L742.1,447.1L750.0,455.6L755.9,447.1L753.1,432.9L750.0,430.1L742.1,418.8L744.1,404.6L747.4,390.4L750.0,386.4L753.9,390.4L756.7,404.6L762.5,418.8L765.7,421.6L772.0,418.8L781.4,415.5L797.1,416.4L812.9,418.8L828.6,416.4L828.6,404.6L828.6,393.7L819.2,390.4L812.9,388.0L805.0,390.4L797.1,392.8L781.4,395.7L774.7,390.4L770.2,376.2L770.2,362.1L765.7,362.1L750.0,362.1L741.0,362.1L741.2,376.2L734.5,390.4L734.2,391.0L733.5,390.4L725.3,376.2L718.5,362.1L702.8,362.1L687.1,362.1L675.8,362.1L671.3,366.8L660.8,362.1L655.6,362.1L639.9,362.1L628.6,362.1L624.2,366.1L619.7,362.1L608.4,362.1L592.7,362.1L577.0,362.1L561.2,362.1L545.5,362.1L529.8,362.1L518.0,362.1L529.8,372.7L535.0,376.2L545.5,385.7L550.0,390.4L556.8,404.6L561.2,408.6L565.7,404.6L577.0,392.8L580.9,390.4L592.7,384.3L598.6,390.4L601.4,404.6L608.4,411.7L618.9,404.6L624.2,400.5L628.6,404.6L632.0,418.8L632.0,432.9L634.0,447.1L635.4,461.3ZM702.0,390.4L698.3,376.2L702.8,369.1L709.1,376.2L704.5,390.4L702.8,391.7ZM797.1,447.7L797.8,447.1L797.1,446.6L796.5,447.1ZM828.6,456.6L828.6,447.1L828.6,432.9L820.0,447.1ZM451.2,420.0L452.6,418.8L451.2,417.5L450.4,418.8ZM498.3,422.8L502.8,418.8L498.3,414.7L493.8,418.8ZM592.7,419.6L593.8,418.8L592.7,418.0L591.8,418.8ZM215.3,378.6L218.4,376.2L231.0,369.9L239.7,362.1L231.0,362.1L215.3,362.1L206.5,362.1L212.6,376.2ZM498.3,381.0L502.8,376.2L510.9,362.1L498.3,362.1L482.6,362.1L466.9,362.1L451.2,362.1L442.4,362.1L451.2,369.1L466.9,369.1L482.6,369.8L493.8,376.2ZM262.4,371.5L270.3,362.1L262.4,362.1L254.6,362.1ZM309.6,369.8L325.3,369.8L334.8,362.1L325.3,362.1L309.6,362.1L299.1,362.1ZM388.3,375.1L396.8,362.1L388.3,362.1L379.7,362.1Z"/>
<path fill="#00efff" stroke="#00efff" stroke-width="0.6" fill-rule="evenodd" d="M246.7,645.6L252.0,645.6L246.7,641.5L244.5,645.6ZM702.8,645.6L718.5,645.6L734.2,645.6L750.0,645.6L754.5,645.6L750.0,638.5L745.5,631.4L739.5,617.2L734.2,612.9L721.7,617.2L718.5,620.1L715.9,617.2L702.8,611.3L689.0,603.1L687.1,602.0L671.3,593.9L655.6,591.1L639.9,596.0L624.2,596.8L608.4,592.6L592.7,592.0L577.0,593.9L561.2,596.3L545.5,592.4L529.8,595.1L514.1,596.1L498.3,600.9L482.6,597.9L466.9,596.3L451.2,599.5L435.4,601.0L419.7,603.1L404.0,601.0L388.3,598.1L372.5,599.0L356.8,600.5L341.1,601.5L325.3,600.7L309.6,599.5L293.9,597.5L278.2,600.0L262.4,601.1L246.7,600.8L231.0,601.1L215.3,595.8L199.5,601.0L183.8,599.7L168.1,599.3L152.4,598.0L136.6,594.4L120.9,596.3L120.9,601.9L136.6,602.3L144.5,603.1L152.4,603.9L168.1,605.4L183.8,606.1L199.5,608.9L212.5,603.1L215.3,602.1L218.0,603.1L231.0,610.7L246.7,608.4L262.4,611.3L278.2,607.0L293.9,603.7L309.6,607.8L325.3,607.3L341.1,608.7L356.8,610.2L372.5,607.0L388.3,605.6L404.0,611.3L419.7,614.9L435.4,615.5L451.2,608.1L466.9,603.1L482.6,604.8L498.3,608.0L511.3,603.1L514.1,602.2L529.8,599.5L545.5,597.5L561.2,601.9L577.0,598.5L592.7,598.1L608.4,600.1L624.2,602.0L639.9,602.4L655.6,598.6L671.3,602.2L672.9,603.1L687.1,617.2L693.8,631.4L693.8,645.6ZM702.8,391.7L704.5,390.4L709.1,376.2L702.8,369.1L698.3,376.2L702.0,390.4ZM734.2,391.0L734.5,390.4L741.2,376.2L741.0,362.1L734.2,362.1L718.5,362.1L725.3,376.2L733.5,390.4ZM781.4,395.7L797.1,392.8L805.0,390.4L812.9,388.0L819.2,390.4L828.6,393.7L828.6,390.4L828.6,376.2L828.6,362.1L812.9,362.1L797.1,362.1L781.4,362.1L770.2,362.1L770.2,376.2L774.7,390.4ZM624.2,366.1L628.6,362.1L624.2,362.1L619.7,362.1ZM671.3,366.8L675.8,362.1L671.3,362.1L660.8,362.1Z"/>
<path fill="#80ff80" stroke="#80ff80" stroke-width="0.6" fill-rule="evenodd" d="M246.7,641.5L252.0,645.6L262.4,645.6L278.2,645.6L293.9,645.6L298.4,645.6L293.9,641.5L278.2,645.6L273.7,631.4L272.3,617.2L278.2,614.9L293.9,610.0L309.6,615.7L325.3,614.4L341.1,616.8L342.8,617.2L350.9,631.4L355.2,645.6L356.8,645.6L372.5,645.6L388.3,645.6L398.1,645.6L404.0,639.5L419.7,634.3L426.0,645.6L435.4,645.6L451.2,645.6L458.1,645.6L458.1,631.4L453.8,617.2L466.9,612.5L482.6,613.7L498.3,615.1L514.1,608.0L529.8,604.7L540.3,603.1L545.5,602.6L547.3,603.1L561.2,610.2L577.0,603.1L592.7,604.4L608.4,608.7L624.2,608.0L639.9,609.4L655.6,608.7L671.3,612.9L675.8,617.2L673.3,631.4L671.3,634.3L664.3,645.6L671.3,645.6L687.1,645.6L693.8,645.6L693.8,631.4L687.1,617.2L672.9,603.1L671.3,602.2L655.6,598.6L639.9,602.4L624.2,602.0L608.4,600.1L592.7,598.1L577.0,598.5L561.2,601.9L545.5,597.5L529.8,599.5L514.1,602.2L511.3,603.1L498.3,608.0L482.6,604.8L466.9,603.1L451.2,608.1L435.4,615.5L419.7,614.9L404.0,611.3L388.3,605.6L372.5,607.0L356.8,610.2L341.1,608.7L325.3,607.3L309.6,607.8L293.9,603.7L278.2,607.0L262.4,611.3L246.7,608.4L231.0,610.7L218.0,603.1L215.3,602.1L212.5,603.1L199.5,608.9L183.8,606.1L168.1,605.4L152.4,603.9L144.5,603.1L136.6,602.3L120.9,601.9L120.9,603.1L120.9,608.0L136.6,610.2L152.4,612.2L168.1,613.3L183.8,613.5L199.5,617.2L215.3,609.1L226.9,617.2L231.0,625.3L236.9,631.4L233.2,645.6L244.5,645.6ZM370.8,617.2L372.5,616.8L377.8,617.2L372.5,618.5Z"/>
<path fill="#ffff00" stroke="#ffff00" stroke-width="0.6" fill-rule="evenodd" d="M152.4,645.6L168.1,645.6L183.8,645.6L190.8,645.6L199.5,635.5L207.4,645.6L215.3,645.6L231.0,645.6L233.2,645.6L236.9,631.4L231.0,625.3L226.9,617.2L215.3,609.1L199.5,617.2L183.8,613.5L168.1,613.3L152.4,612.2L136.6,610.2L120.9,608.0L120.9,614.2L134.0,617.2L136.6,622.0L141.1,631.4ZM213.2,617.2L215.3,616.2L216.8,617.2L215.3,620.5ZM278.2,645.6L293.9,641.5L298.4,645.6L309.6,645.6L325.3,645.6L341.1,645.6L355.2,645.6L350.9,631.4L342.8,617.2L341.1,616.8L325.3,614.4L309.6,615.7L293.9,610.0L278.2,614.9L272.3,617.2L273.7,631.4ZM291.1,617.2L293.9,616.3L296.4,617.2L293.9,620.5ZM404.0,645.6L419.7,645.6L426.0,645.6L419.7,634.3L404.0,639.5L398.1,645.6ZM466.9,645.6L482.6,645.6L498.3,645.6L504.2,631.4L506.8,617.2L514.1,613.8L529.8,613.1L545.5,609.1L559.0,617.2L561.2,624.3L563.1,617.2L577.0,608.7L592.7,611.2L606.9,617.2L608.4,618.7L611.0,617.2L624.2,614.2L639.9,616.5L643.0,617.2L645.8,631.4L646.9,645.6L655.6,645.6L664.3,645.6L671.3,634.3L673.3,631.4L675.8,617.2L671.3,612.9L655.6,608.7L639.9,609.4L624.2,608.0L608.4,608.7L592.7,604.4L577.0,603.1L561.2,610.2L547.3,603.1L545.5,602.6L540.3,603.1L529.8,604.7L514.1,608.0L498.3,615.1L482.6,613.7L466.9,612.5L453.8,617.2L458.1,631.4L458.1,645.6ZM529.8,645.6L535.7,645.6L529.8,635.0L523.1,645.6ZM372.5,618.5L377.8,617.2L372.5,616.8L370.8,617.2Z"/>
<path fill="#ff8000" stroke="#ff8000" stroke-width="0.6" fill-rule="evenodd" d="M136.6,645.6L152.4,645.6L141.1,631.4L136.6,622.0L134.0,617.2L120.9,614.2L120.9,617.2L120.9,631.4L120.9,645.6ZM199.5,645.6L207.4,645.6L199.5,635.5L190.8,645.6ZM514.1,645.6L523.1,645.6L529.8,635.0L535.7,645.6L545.5,645.6L561.2,645.6L577.0,645.6L592.7,645.6L599.0,645.6L608.4,633.4L617.0,645.6L624.2,645.6L639.9,645.6L646.9,645.6L645.8,631.4L643.0,617.2L639.9,616.5L624.2,614.2L611.0,617.2L608.4,618.7L606.9,617.2L592.7,611.2L577.0,608.7L563.1,617.2L561.2,624.3L559.0,617.2L545.5,609.1L529.8,613.1L514.1,613.8L506.8,617.2L504.2,631.4L498.3,645.6ZM571.7,631.4L572.3,617.2L577.0,614.4L590.1,617.2L584.0,631.4L577.0,640.9ZM541.0,617.2L545.5,615.9L547.8,617.2L545.5,626.7ZM215.3,620.5L216.8,617.2L215.3,616.2L213.2,617.2ZM293.9,620.5L296.4,617.2L293.9,616.3L291.1,617.2Z"/>
<path fill="#ff0000" stroke="#ff0000" stroke-width="0.6" fill-rule="evenodd" d="M577.0,640.9L584.0,631.4L590.1,617.2L577.0,614.4L572.3,617.2L571.7,631.4ZM608.4,645.6L617.0,645.6L608.4,633.4L599.0,645.6ZM545.5,626.7L547.8,617.2L545.5,615.9L541.0,617.2Z"/>
<path d="M199.5,645.6v-10M199.5,362.05v10M278.2,645.6v-10M278.2,362.05v10M356.8,645.6v-10M356.8,362.05v10M435.4,645.6v-10M435.4,362.05v10M514.1,645.6v-10M514.1,362.05v10M592.7,645.6v-10M592.7,362.05v10M671.3,645.6v-10M671.3,362.05v10M750.0,645.6v-10M750.0,362.05v10M120.9,574.7h10M828.6,574.7h-10M120.9,503.8h10M828.6,503.8h-10M120.9,432.9h10M828.6,432.9h-10" stroke="#000" stroke-width="1.6" fill="none"/>
<path d="M120.9,646.25V362.05H829.2" fill="none" stroke="#000" stroke-width="1.8" stroke-linejoin="miter"/>
<path d="M120.0,645.6H828.6V361.15000000000003" fill="none" stroke="#000" stroke-width="1.3" stroke-linejoin="miter"/>
<g fill="none" stroke="#ff0000" stroke-width="2.6"><circle cx="730.3" cy="363.2" r="7.8"/><circle cx="750.0" cy="363.2" r="7.8"/><circle cx="769.6" cy="363.2" r="7.8"/><circle cx="730.3" cy="377.4" r="7.8"/><circle cx="726.4" cy="431.3" r="7.8"/><rect x="762.8" y="390.7" width="13.6" height="13.6"/></g>
<text class="b" transform="translate(109.2,658.2) scale(1.04,1.08)" text-anchor="end" stroke="#fff" stroke-width="0.7">45</text>
<text class="b" transform="translate(109.2,587.3) scale(1.04,1.08)" text-anchor="end" stroke="#fff" stroke-width="0.7">50</text>
<text class="b" transform="translate(109.2,516.4) scale(1.04,1.08)" text-anchor="end" stroke="#fff" stroke-width="0.7">55</text>
<text class="b" transform="translate(109.2,445.5) scale(1.04,1.08)" text-anchor="end" stroke="#fff" stroke-width="0.7">60</text>
<text class="b" transform="translate(109.2,374.7) scale(1.04,1.08)" text-anchor="end" stroke="#fff" stroke-width="0.7">65</text>
<text class="r" transform="translate(47.5,504.4) rotate(-90)" x="-150.4" textLength="300.8" lengthAdjust="spacing">Incident angle <tspan class="i">θ</tspan> [deg]</text>
<rect x="861" y="425.75" width="37" height="219.75" fill="#00008f"/><rect x="861" y="425.75" width="37" height="216.32" fill="#00009f"/><rect x="861" y="425.75" width="37" height="212.88" fill="#0000af"/><rect x="861" y="425.75" width="37" height="209.45" fill="#0000bf"/><rect x="861" y="425.75" width="37" height="206.02" fill="#0000cf"/><rect x="861" y="425.75" width="37" height="202.58" fill="#0000df"/><rect x="861" y="425.75" width="37" height="199.15" fill="#0000ef"/><rect x="861" y="425.75" width="37" height="195.71" fill="#0000ff"/><rect x="861" y="425.75" width="37" height="192.28" fill="#0010ff"/><rect x="861" y="425.75" width="37" height="188.85" fill="#0020ff"/><rect x="861" y="425.75" width="37" height="185.41" fill="#0030ff"/><rect x="861" y="425.75" width="37" height="181.98" fill="#0040ff"/><rect x="861" y="425.75" width="37" height="178.55" fill="#0050ff"/><rect x="861" y="425.75" width="37" height="175.11" fill="#0060ff"/><rect x="861" y="425.75" width="37" height="171.68" fill="#0070ff"/><rect x="861" y="425.75" width="37" height="168.25" fill="#0080ff"/><rect x="861" y="425.75" width="37" height="164.81" fill="#008fff"/><rect x="861" y="425.75" width="37" height="161.38" fill="#009fff"/><rect x="861" y="425.75" width="37" height="157.95" fill="#00afff"/><rect x="861" y="425.75" width="37" height="154.51" fill="#00bfff"/><rect x="861" y="425.75" width="37" height="151.08" fill="#00cfff"/><rect x="861" y="425.75" width="37" height="147.64" fill="#00dfff"/><rect x="861" y="425.75" width="37" height="144.21" fill="#00efff"/><rect x="861" y="425.75" width="37" height="140.78" fill="#00ffff"/><rect x="861" y="425.75" width="37" height="137.34" fill="#10ffef"/><rect x="861" y="425.75" width="37" height="133.91" fill="#20ffdf"/><rect x="861" y="425.75" width="37" height="130.48" fill="#30ffcf"/><rect x="861" y="425.75" width="37" height="127.04" fill="#40ffbf"/><rect x="861" y="425.75" width="37" height="123.61" fill="#50ffaf"/><rect x="861" y="425.75" width="37" height="120.18" fill="#60ff9f"/><rect x="861" y="425.75" width="37" height="116.74" fill="#70ff8f"/><rect x="861" y="425.75" width="37" height="113.31" fill="#80ff80"/><rect x="861" y="425.75" width="37" height="109.88" fill="#8fff70"/><rect x="861" y="425.75" width="37" height="106.44" fill="#9fff60"/><rect x="861" y="425.75" width="37" height="103.01" fill="#afff50"/><rect x="861" y="425.75" width="37" height="99.57" fill="#bfff40"/><rect x="861" y="425.75" width="37" height="96.14" fill="#cfff30"/><rect x="861" y="425.75" width="37" height="92.71" fill="#dfff20"/><rect x="861" y="425.75" width="37" height="89.27" fill="#efff10"/><rect x="861" y="425.75" width="37" height="85.84" fill="#ffff00"/><rect x="861" y="425.75" width="37" height="82.41" fill="#ffef00"/><rect x="861" y="425.75" width="37" height="78.97" fill="#ffdf00"/><rect x="861" y="425.75" width="37" height="75.54" fill="#ffcf00"/><rect x="861" y="425.75" width="37" height="72.11" fill="#ffbf00"/><rect x="861" y="425.75" width="37" height="68.67" fill="#ffaf00"/><rect x="861" y="425.75" width="37" height="65.24" fill="#ff9f00"/><rect x="861" y="425.75" width="37" height="61.80" fill="#ff8f00"/><rect x="861" y="425.75" width="37" height="58.37" fill="#ff8000"/><rect x="861" y="425.75" width="37" height="54.94" fill="#ff7000"/><rect x="861" y="425.75" width="37" height="51.50" fill="#ff6000"/><rect x="861" y="425.75" width="37" height="48.07" fill="#ff5000"/><rect x="861" y="425.75" width="37" height="44.64" fill="#ff4000"/><rect x="861" y="425.75" width="37" height="41.20" fill="#ff3000"/><rect x="861" y="425.75" width="37" height="37.77" fill="#ff2000"/><rect x="861" y="425.75" width="37" height="34.34" fill="#ff1000"/><rect x="861" y="425.75" width="37" height="30.90" fill="#ff0000"/><rect x="861" y="425.75" width="37" height="27.47" fill="#ef0000"/><rect x="861" y="425.75" width="37" height="24.04" fill="#df0000"/><rect x="861" y="425.75" width="37" height="20.60" fill="#cf0000"/><rect x="861" y="425.75" width="37" height="17.17" fill="#bf0000"/><rect x="861" y="425.75" width="37" height="13.73" fill="#af0000"/><rect x="861" y="425.75" width="37" height="10.30" fill="#9f0000"/><rect x="861" y="425.75" width="37" height="6.87" fill="#8f0000"/><rect x="861" y="425.75" width="37" height="3.43" fill="#800000"/>
<text class="b" transform="translate(909.5,468.1) scale(1.0,1.13)" text-anchor="start" stroke="#fff" stroke-width="0.7">0.1</text>
<text class="b" transform="translate(909.5,525.5) scale(1.0,1.13)" text-anchor="start" stroke="#fff" stroke-width="0.7">0.08</text>
<text class="b" transform="translate(909.5,581.8) scale(1.0,1.13)" text-anchor="start" stroke="#fff" stroke-width="0.7">0.06</text>
<text class="b" transform="translate(909.5,638.0) scale(1.0,1.13)" text-anchor="start" stroke="#fff" stroke-width="0.7">0.04</text>
<path d="M861,453.75h4M898,453.75h-4M861,511.25h4M898,511.25h-4M861,567.5h4M898,567.5h-4M861,623.75h4M898,623.75h-4" stroke="#000" stroke-width="1.2" fill="none"/>
<rect x="861" y="425.75" width="37" height="219.75" fill="none" stroke="#000" stroke-width="1.6"/>
<text class="t" x="843.3" y="369.7" textLength="98.5" lengthAdjust="spacing"><tspan class="ti">u</tspan><tspan font-size="20.5" dy="9.2">MC</tspan><tspan dy="-8" font-size="35.5">(</tspan><tspan class="ti" dy="-1.2">h</tspan><tspan dy="1.2" font-size="35.5">)</tspan></text>
<text class="t" x="896.5" y="414.0" text-anchor="middle">[nm]</text>
</g>
<g id="plot3">
<rect x="120.9" y="694.05" width="707.7" height="284.95000000000005" fill="#0030ff"/>
<path fill="#00008f" stroke="#00008f" stroke-width="0.6" fill-rule="evenodd" d="M750.0,894.1L750.3,893.5L750.0,893.0L749.4,893.5ZM734.2,870.7L742.1,865.0L734.2,860.9L729.0,865.0ZM765.7,867.4L767.9,865.0L775.1,850.8L781.4,839.4L782.5,836.5L782.8,822.3L797.1,808.0L789.3,793.8L781.4,789.0L776.2,779.5L781.4,775.5L797.1,765.3L801.6,751.0L797.1,747.0L781.4,739.2L778.8,736.8L775.1,722.5L765.7,708.3L750.0,714.0L740.5,722.5L735.7,736.8L734.2,738.1L718.5,749.5L717.1,751.0L715.9,765.3L715.9,779.5L718.5,786.7L721.1,793.8L727.9,808.0L734.2,815.2L744.7,822.3L750.0,829.4L753.9,836.5L753.9,850.8L760.5,865.0Z"/>
<path fill="#0000af" stroke="#0000af" stroke-width="0.6" fill-rule="evenodd" d="M702.8,922.6L718.5,922.6L734.2,922.7L750.0,922.9L765.7,922.3L767.4,922.0L765.7,914.9L764.3,907.8L765.7,893.5L778.8,879.3L781.4,876.4L791.9,865.0L797.1,855.5L800.3,850.8L805.0,836.5L810.3,822.3L812.9,815.2L815.5,808.0L812.9,793.8L812.9,779.5L821.9,765.3L828.6,754.6L828.6,751.0L828.6,748.2L816.0,736.8L812.9,733.2L805.0,722.5L807.6,708.3L812.9,694.0L797.1,694.0L781.4,694.0L765.7,694.0L750.0,694.0L734.2,694.0L718.5,694.0L702.8,694.0L687.1,694.0L671.3,694.0L655.6,694.0L639.9,694.0L624.2,694.0L621.0,694.0L615.2,708.3L608.4,715.4L592.7,709.9L577.0,719.7L573.8,722.5L577.0,727.3L584.8,736.8L592.7,742.5L599.4,751.0L592.7,765.3L577.0,763.3L563.5,751.0L561.2,749.7L559.8,751.0L555.3,765.3L545.5,770.0L531.2,779.5L545.5,793.8L556.0,779.5L561.2,770.6L572.5,779.5L577.0,786.7L592.7,788.1L608.4,781.1L610.2,779.5L624.2,765.3L629.4,751.0L639.9,736.8L653.9,722.5L655.6,721.2L657.4,722.5L664.6,736.8L669.9,751.0L663.5,765.3L658.2,779.5L671.3,791.4L676.6,793.8L687.1,803.3L689.7,808.0L693.0,822.3L693.0,836.5L687.1,847.2L684.4,850.8L680.8,865.0L687.1,872.1L697.5,879.3L702.8,888.8L704.2,893.5L702.8,898.3L700.2,907.8L699.6,922.0ZM749.4,893.5L750.0,893.0L750.3,893.5L750.0,894.1ZM729.0,865.0L734.2,860.9L742.1,865.0L734.2,870.7ZM760.5,865.0L753.9,850.8L753.9,836.5L750.0,829.4L744.7,822.3L734.2,815.2L727.9,808.0L721.1,793.8L718.5,786.7L715.9,779.5L715.9,765.3L717.1,751.0L718.5,749.5L734.2,738.1L735.7,736.8L740.5,722.5L750.0,714.0L765.7,708.3L775.1,722.5L778.8,736.8L781.4,739.2L797.1,747.0L801.6,751.0L797.1,765.3L781.4,775.5L776.2,779.5L781.4,789.0L789.3,793.8L797.1,808.0L782.8,822.3L782.5,836.5L781.4,839.4L775.1,850.8L767.9,865.0L765.7,867.4ZM545.5,867.5L547.9,865.0L545.5,860.9L541.0,865.0ZM624.2,869.1L628.6,865.0L624.2,860.9L619.7,865.0ZM419.7,780.8L421.1,779.5L419.7,778.2L418.3,779.5ZM482.6,786.7L488.5,779.5L489.6,765.3L482.6,751.0L475.6,765.3L476.7,779.5ZM514.1,770.0L518.6,765.3L519.3,751.0L523.5,736.8L529.8,731.1L545.5,726.6L550.8,722.5L550.0,708.3L545.5,704.2L540.3,708.3L529.8,716.4L520.4,722.5L514.1,728.2L508.2,736.8L508.8,751.0L509.6,765.3ZM466.9,727.9L472.8,722.5L466.9,717.2L461.0,722.5Z"/>
<path fill="#0000ef" stroke="#0000ef" stroke-width="0.6" fill-rule="evenodd" d="M482.6,924.0L489.4,922.0L482.6,908.9L475.4,922.0ZM624.2,922.9L632.0,922.0L626.4,907.8L632.0,893.5L639.9,882.1L647.7,893.5L646.6,907.8L643.4,922.0L655.6,925.4L671.3,926.4L687.1,925.9L702.8,928.3L718.5,928.8L734.2,929.8L750.0,931.8L765.7,927.4L781.4,924.8L797.1,924.5L812.9,922.8L828.6,922.0L812.9,912.5L810.3,907.8L802.4,893.5L812.9,879.3L825.5,865.0L828.6,861.5L828.6,850.8L828.6,836.5L828.6,822.3L828.6,808.0L828.6,793.8L828.6,779.5L828.6,765.3L828.6,754.6L821.9,765.3L812.9,779.5L812.9,793.8L815.5,808.0L812.9,815.2L810.3,822.3L805.0,836.5L800.3,850.8L797.1,855.5L791.9,865.0L781.4,876.4L778.8,879.3L765.7,893.5L764.3,907.8L765.7,914.9L767.4,922.0L765.7,922.3L750.0,922.9L734.2,922.7L718.5,922.6L702.8,922.6L699.6,922.0L700.2,907.8L702.8,898.3L704.2,893.5L702.8,888.8L697.5,879.3L687.1,872.1L680.8,865.0L684.4,850.8L687.1,847.2L693.0,836.5L693.0,822.3L689.7,808.0L687.1,803.3L676.6,793.8L671.3,791.4L658.2,779.5L663.5,765.3L669.9,751.0L664.6,736.8L657.4,722.5L655.6,721.2L653.9,722.5L639.9,736.8L629.4,751.0L624.2,765.3L610.2,779.5L608.4,781.1L592.7,788.1L577.0,786.7L572.5,779.5L561.2,770.6L556.0,779.5L545.5,793.8L531.2,779.5L545.5,770.0L555.3,765.3L559.8,751.0L561.2,749.7L563.5,751.0L577.0,763.3L592.7,765.3L599.4,751.0L592.7,742.5L584.8,736.8L577.0,727.3L573.8,722.5L577.0,719.7L592.7,709.9L608.4,715.4L615.2,708.3L621.0,694.0L608.4,694.0L592.7,694.0L577.0,694.0L561.2,694.0L545.5,694.0L529.8,694.0L514.1,694.0L498.3,694.0L482.6,694.0L466.9,694.0L451.2,694.0L435.4,694.0L419.7,694.0L413.0,694.0L413.0,708.3L410.7,722.5L404.0,734.8L402.6,736.8L395.0,751.0L388.3,759.6L382.0,765.3L372.5,771.4L356.8,778.2L347.0,765.3L341.1,759.9L335.2,765.3L332.3,779.5L341.1,786.7L356.8,780.8L372.5,792.2L380.4,793.8L388.3,795.1L398.1,808.0L404.0,813.4L411.8,808.0L419.7,802.7L427.6,808.0L435.4,813.4L441.3,808.0L451.2,796.2L462.4,808.0L453.8,822.3L451.2,827.0L446.7,836.5L435.4,848.4L419.7,839.4L411.8,850.8L409.9,865.0L419.7,875.2L427.6,879.3L435.4,883.3L451.2,879.3L466.9,881.6L482.6,881.6L498.3,886.4L514.1,883.3L529.8,879.3L545.5,880.6L546.9,879.3L560.0,865.0L561.2,862.6L564.4,865.0L577.0,873.2L592.7,878.0L594.4,879.3L608.4,890.7L611.6,893.5L622.7,907.8L620.7,922.0ZM541.0,865.0L545.5,860.9L547.9,865.0L545.5,867.5ZM619.7,865.0L624.2,860.9L628.6,865.0L624.2,869.1ZM632.0,836.5L639.9,830.2L647.7,836.5L639.9,842.9ZM621.5,808.0L624.2,805.7L626.8,808.0L624.2,810.4ZM418.3,779.5L419.7,778.2L421.1,779.5L419.7,780.8ZM476.7,779.5L475.6,765.3L482.6,751.0L489.6,765.3L488.5,779.5L482.6,786.7ZM509.6,765.3L508.8,751.0L508.2,736.8L514.1,728.2L520.4,722.5L529.8,716.4L540.3,708.3L545.5,704.2L550.0,708.3L550.8,722.5L545.5,726.6L529.8,731.1L523.5,736.8L519.3,751.0L518.6,765.3L514.1,770.0ZM414.5,751.0L419.7,747.0L424.2,751.0L419.7,755.1ZM461.0,722.5L466.9,717.2L472.8,722.5L466.9,727.9ZM372.5,853.1L375.1,850.8L388.3,838.9L390.9,836.5L388.3,834.2L374.0,822.3L372.5,821.0L371.1,822.3L364.7,836.5L369.9,850.8ZM828.6,748.2L828.6,736.8L828.6,722.5L828.6,708.3L828.6,694.0L812.9,694.0L807.6,708.3L805.0,722.5L812.9,733.2L816.0,736.8ZM372.5,724.9L380.4,722.5L372.5,720.2L369.9,722.5Z"/>
<path fill="#0040ff" stroke="#0040ff" stroke-width="0.6" fill-rule="evenodd" d="M734.2,937.0L750.0,940.4L756.5,936.3L765.7,932.6L781.4,929.4L797.1,928.5L812.9,926.9L828.6,925.9L828.6,922.0L812.9,922.8L797.1,924.5L781.4,924.8L765.7,927.4L750.0,931.8L734.2,929.8L718.5,928.8L702.8,928.3L687.1,925.9L671.3,926.4L655.6,925.4L643.4,922.0L646.6,907.8L647.7,893.5L639.9,882.1L632.0,893.5L626.4,907.8L632.0,922.0L624.2,922.9L620.7,922.0L622.7,907.8L611.6,893.5L608.4,890.7L594.4,879.3L592.7,878.0L577.0,873.2L564.4,865.0L561.2,862.6L560.0,865.0L546.9,879.3L545.5,880.6L529.8,879.3L514.1,883.3L498.3,886.4L482.6,881.6L466.9,881.6L451.2,879.3L435.4,883.3L427.6,879.3L419.7,875.2L409.9,865.0L411.8,850.8L419.7,839.4L435.4,848.4L446.7,836.5L451.2,827.0L453.8,822.3L462.4,808.0L451.2,796.2L441.3,808.0L435.4,813.4L427.6,808.0L419.7,802.7L411.8,808.0L404.0,813.4L398.1,808.0L388.3,795.1L380.4,793.8L372.5,792.2L356.8,780.8L341.1,786.7L332.3,779.5L335.2,765.3L341.1,759.9L347.0,765.3L356.8,778.2L372.5,771.4L382.0,765.3L388.3,759.6L395.0,751.0L402.6,736.8L404.0,734.8L410.7,722.5L413.0,708.3L413.0,694.0L404.0,694.0L388.3,694.0L372.5,694.0L356.8,694.0L341.1,694.0L325.3,694.0L309.6,694.0L305.1,694.0L305.1,708.3L303.7,722.5L309.6,736.8L293.9,748.2L290.7,751.0L286.0,765.3L287.6,779.5L293.9,786.7L309.6,791.4L314.9,793.8L325.3,797.9L341.1,805.7L343.7,808.0L341.1,822.3L325.3,831.2L309.6,831.2L300.9,822.3L293.9,814.1L278.2,808.0L274.2,822.3L269.4,836.5L275.0,850.8L278.2,857.9L280.8,865.0L291.0,879.3L293.9,885.0L301.8,893.5L309.6,902.1L316.4,893.5L325.3,885.4L341.1,883.3L353.7,879.3L356.8,878.0L358.5,879.3L372.5,886.4L388.3,891.1L404.0,887.2L411.0,893.5L404.0,907.8L404.0,922.0L419.7,922.4L435.4,922.9L451.2,922.9L466.9,923.3L482.6,927.3L498.3,922.9L514.1,922.0L529.8,919.6L545.5,919.6L561.2,922.0L577.0,908.7L578.4,907.8L577.0,904.9L566.5,893.5L577.0,890.3L592.7,892.2L594.3,893.5L600.6,907.8L604.1,922.0L608.4,923.2L624.2,927.2L639.9,925.5L655.6,930.4L671.3,931.9L687.1,932.4L702.8,934.0L718.5,935.0L729.0,936.3ZM475.4,922.0L482.6,908.9L489.4,922.0L482.6,924.0ZM369.9,850.8L364.7,836.5L371.1,822.3L372.5,821.0L374.0,822.3L388.3,834.2L390.9,836.5L388.3,838.9L375.1,850.8L372.5,853.1ZM369.9,722.5L372.5,720.2L380.4,722.5L372.5,724.9ZM341.1,922.3L342.8,922.0L341.1,919.6L339.5,922.0ZM372.5,922.6L375.7,922.0L372.5,917.9L369.4,922.0ZM812.9,912.5L828.6,922.0L828.6,907.8L828.6,893.5L828.6,879.3L828.6,865.0L828.6,861.5L825.5,865.0L812.9,879.3L802.4,893.5L810.3,907.8ZM639.9,842.9L647.7,836.5L639.9,830.2L632.0,836.5ZM624.2,810.4L626.8,808.0L624.2,805.7L621.5,808.0ZM262.4,786.7L271.4,779.5L262.4,773.8L256.1,779.5ZM419.7,755.1L424.2,751.0L419.7,747.0L414.5,751.0Z"/>
<path fill="#008fff" stroke="#008fff" stroke-width="0.6" fill-rule="evenodd" d="M671.3,938.0L687.1,939.4L702.8,939.5L718.5,942.0L734.2,945.0L750.0,948.8L765.7,937.6L771.6,936.3L781.4,934.0L797.1,932.6L812.9,931.0L828.6,929.7L828.6,925.9L812.9,926.9L797.1,928.5L781.4,929.4L765.7,932.6L756.5,936.3L750.0,940.4L734.2,937.0L729.0,936.3L718.5,935.0L702.8,934.0L687.1,932.4L671.3,931.9L655.6,930.4L639.9,925.5L624.2,927.2L608.4,923.2L604.1,922.0L600.6,907.8L594.3,893.5L592.7,892.2L577.0,890.3L566.5,893.5L577.0,904.9L578.4,907.8L577.0,908.7L561.2,922.0L545.5,919.6L529.8,919.6L514.1,922.0L498.3,922.9L482.6,927.3L466.9,923.3L451.2,922.9L435.4,922.9L419.7,922.4L404.0,922.0L404.0,907.8L411.0,893.5L404.0,887.2L388.3,891.1L372.5,886.4L358.5,879.3L356.8,878.0L353.7,879.3L341.1,883.3L325.3,885.4L316.4,893.5L309.6,902.1L301.8,893.5L293.9,885.0L291.0,879.3L280.8,865.0L278.2,857.9L275.0,850.8L269.4,836.5L274.2,822.3L278.2,808.0L293.9,814.1L300.9,822.3L309.6,831.2L325.3,831.2L341.1,822.3L343.7,808.0L341.1,805.7L325.3,797.9L314.9,793.8L309.6,791.4L293.9,786.7L287.6,779.5L286.0,765.3L290.7,751.0L293.9,748.2L309.6,736.8L303.7,722.5L305.1,708.3L305.1,694.0L293.9,694.0L278.2,694.0L262.4,705.9L259.3,708.3L246.7,714.6L231.0,716.2L223.1,722.5L223.1,736.8L225.1,751.0L229.6,765.3L231.0,766.9L232.4,765.3L236.9,751.0L240.0,736.8L246.7,731.4L252.6,736.8L255.5,751.0L255.5,765.3L246.7,773.2L238.9,779.5L231.0,786.7L218.4,793.8L215.3,798.5L212.8,808.0L215.3,817.5L217.9,822.3L222.0,836.5L219.8,850.8L215.3,860.3L210.8,850.8L209.4,836.5L199.5,827.6L190.8,836.5L186.4,850.8L183.8,853.6L175.9,865.0L183.8,872.1L199.5,878.0L215.3,867.9L227.8,879.3L231.0,881.6L234.1,879.3L246.7,865.0L262.4,872.9L275.0,879.3L278.2,884.0L281.7,893.5L280.8,907.8L288.7,922.0L293.9,922.6L309.6,922.3L325.3,922.3L341.1,925.1L356.8,922.7L372.5,925.6L388.3,922.8L404.0,926.0L419.7,926.6L435.4,927.2L451.2,927.5L466.9,927.8L482.6,930.6L498.3,927.5L514.1,925.5L529.8,924.7L545.5,924.7L561.2,924.9L577.0,923.0L592.7,922.7L608.4,927.2L624.2,931.5L639.9,929.8L655.6,935.3L663.5,936.3ZM339.5,922.0L341.1,919.6L342.8,922.0L341.1,922.3ZM369.4,922.0L372.5,917.9L375.7,922.0L372.5,922.6ZM239.3,808.0L246.7,801.3L262.4,802.8L266.5,808.0L262.4,819.1L246.7,820.9ZM256.1,779.5L262.4,773.8L271.4,779.5L262.4,786.7ZM199.5,922.3L200.6,922.0L199.5,919.6L197.3,922.0ZM136.6,875.7L152.4,869.8L157.6,865.0L152.4,860.3L136.6,852.8L127.2,865.0ZM168.1,786.7L183.8,779.5L168.1,773.8L163.7,779.5Z"/>
<path fill="#00dfff" stroke="#00dfff" stroke-width="0.6" fill-rule="evenodd" d="M734.2,957.6L750.0,963.2L754.5,950.5L765.7,941.9L781.4,941.2L797.1,936.9L801.1,936.3L812.9,935.0L828.6,933.6L828.6,929.7L812.9,931.0L797.1,932.6L781.4,934.0L771.6,936.3L765.7,937.6L750.0,948.8L734.2,945.0L718.5,942.0L702.8,939.5L687.1,939.4L671.3,938.0L663.5,936.3L655.6,935.3L639.9,929.8L624.2,931.5L608.4,927.2L592.7,922.7L577.0,923.0L561.2,924.9L545.5,924.7L529.8,924.7L514.1,925.5L498.3,927.5L482.6,930.6L466.9,927.8L451.2,927.5L435.4,927.2L419.7,926.6L404.0,926.0L388.3,922.8L372.5,925.6L356.8,922.7L341.1,925.1L325.3,922.3L309.6,922.3L293.9,922.6L288.7,922.0L280.8,907.8L281.7,893.5L278.2,884.0L275.0,879.3L262.4,872.9L246.7,865.0L234.1,879.3L231.0,881.6L227.8,879.3L215.3,867.9L199.5,878.0L183.8,872.1L175.9,865.0L183.8,853.6L186.4,850.8L190.8,836.5L199.5,827.6L209.4,836.5L210.8,850.8L215.3,860.3L219.8,850.8L222.0,836.5L217.9,822.3L215.3,817.5L212.8,808.0L215.3,798.5L218.4,793.8L231.0,786.7L238.9,779.5L246.7,773.2L255.5,765.3L255.5,751.0L252.6,736.8L246.7,731.4L240.0,736.8L236.9,751.0L232.4,765.3L231.0,766.9L229.6,765.3L225.1,751.0L223.1,736.8L223.1,722.5L231.0,716.2L246.7,714.6L259.3,708.3L262.4,705.9L278.2,694.0L262.4,694.0L256.8,694.0L246.7,702.6L236.6,694.0L231.0,694.0L215.3,694.0L199.5,694.0L183.8,694.0L168.1,694.0L167.6,694.0L160.2,708.3L152.4,722.5L161.3,736.8L168.1,751.0L160.2,765.3L152.9,779.5L152.4,782.4L147.9,793.8L145.4,808.0L145.4,822.3L141.9,836.5L136.6,839.1L131.4,836.5L127.9,822.3L127.9,808.0L123.5,793.8L120.9,791.4L120.9,793.8L120.9,808.0L120.9,822.3L120.9,836.5L120.9,850.8L120.9,865.0L120.9,879.3L120.9,886.4L136.6,888.0L152.4,887.0L168.1,887.2L183.8,891.5L187.0,893.5L183.8,895.9L168.1,901.7L160.2,907.8L152.4,916.3L144.5,922.0L152.4,922.7L168.1,923.3L183.8,923.3L199.5,925.1L211.1,922.0L207.4,907.8L207.4,893.5L215.3,887.8L222.2,893.5L223.1,907.8L223.1,922.0L231.0,923.2L246.7,923.0L262.4,924.0L278.2,924.0L293.9,925.7L309.6,925.6L325.3,925.7L341.1,927.9L356.8,926.2L372.5,928.5L388.3,926.9L404.0,929.9L419.7,930.8L435.4,931.5L451.2,932.1L466.9,932.3L482.6,933.9L498.3,932.1L514.1,929.0L529.8,927.8L545.5,927.8L561.2,927.7L577.0,926.2L592.7,926.1L608.4,931.1L624.2,935.8L639.9,934.1L645.9,936.3L655.6,943.4L671.3,946.9L687.1,947.3L702.8,945.0L718.5,949.1L724.8,950.5ZM197.3,922.0L199.5,919.6L200.6,922.0L199.5,922.3ZM256.5,893.5L262.4,888.8L266.7,893.5L262.4,905.7ZM127.2,865.0L136.6,852.8L152.4,860.3L157.6,865.0L152.4,869.8L136.6,875.7ZM196.9,808.0L199.5,805.7L200.7,808.0L199.5,809.8ZM163.7,779.5L168.1,773.8L183.8,779.5L168.1,786.7ZM168.1,751.0L174.0,736.8L175.9,722.5L182.1,708.3L183.8,707.0L185.2,708.3L192.5,722.5L199.5,736.8L206.5,751.0L199.5,758.2L183.8,761.2ZM131.4,922.0L120.9,915.7L120.9,922.0L120.9,923.3ZM246.7,820.9L262.4,819.1L266.5,808.0L262.4,802.8L246.7,801.3L239.3,808.0Z"/>
<path fill="#20ffdf" stroke="#20ffdf" stroke-width="0.6" fill-rule="evenodd" d="M655.6,979.0L671.3,979.0L687.1,979.0L702.8,979.0L718.5,979.0L734.2,979.0L750.0,979.0L765.7,979.0L772.0,979.0L765.7,964.8L760.1,950.5L765.7,946.2L780.7,950.5L781.4,951.8L782.0,950.5L797.1,942.8L812.9,939.7L828.6,937.8L828.6,936.3L828.6,933.6L812.9,935.0L801.1,936.3L797.1,936.9L781.4,941.2L765.7,941.9L754.5,950.5L750.0,963.2L734.2,957.6L724.8,950.5L718.5,949.1L702.8,945.0L687.1,947.3L671.3,946.9L655.6,943.4L645.9,936.3L639.9,934.1L624.2,935.8L608.4,931.1L592.7,926.1L577.0,926.2L561.2,927.7L545.5,927.8L529.8,927.8L514.1,929.0L498.3,932.1L482.6,933.9L466.9,932.3L451.2,932.1L435.4,931.5L419.7,930.8L404.0,929.9L388.3,926.9L372.5,928.5L356.8,926.2L341.1,927.9L325.3,925.7L309.6,925.6L293.9,925.7L278.2,924.0L262.4,924.0L246.7,923.0L231.0,923.2L223.1,922.0L223.1,907.8L222.2,893.5L215.3,887.8L207.4,893.5L207.4,907.8L211.1,922.0L199.5,925.1L183.8,923.3L168.1,923.3L152.4,922.7L144.5,922.0L152.4,916.3L160.2,907.8L168.1,901.7L183.8,895.9L187.0,893.5L183.8,891.5L168.1,887.2L152.4,887.0L136.6,888.0L120.9,886.4L120.9,893.5L120.9,907.8L120.9,915.7L131.4,922.0L120.9,923.3L120.9,926.6L136.6,924.9L152.4,925.9L168.1,926.5L183.8,926.5L199.5,927.9L215.3,924.1L231.0,926.3L246.7,926.3L262.4,928.1L278.2,927.4L293.9,928.8L309.6,928.8L325.3,929.1L341.1,930.7L356.8,929.7L372.5,931.5L388.3,931.0L404.0,933.9L419.7,935.0L435.4,935.8L443.3,936.3L451.2,936.8L466.9,936.7L482.6,937.4L498.3,936.9L499.7,936.3L514.1,932.4L529.8,930.8L545.5,930.8L561.2,930.6L577.0,929.5L592.7,929.5L608.4,935.1L612.4,936.3L624.2,941.4L639.9,940.0L653.6,950.5L653.5,964.8L652.5,979.0ZM262.4,905.7L266.7,893.5L262.4,888.8L256.5,893.5ZM136.6,839.1L141.9,836.5L145.4,822.3L145.4,808.0L147.9,793.8L152.4,782.4L152.9,779.5L160.2,765.3L168.1,751.0L161.3,736.8L152.4,722.5L160.2,708.3L167.6,694.0L158.6,694.0L152.4,701.7L143.2,694.0L136.6,694.0L120.9,694.0L120.9,708.3L120.9,722.5L120.9,736.8L120.9,751.0L120.9,765.3L120.9,779.5L120.9,791.4L123.5,793.8L127.9,808.0L127.9,822.3L131.4,836.5ZM129.6,751.0L135.2,736.8L136.6,735.5L137.8,736.8L143.6,751.0L136.6,758.2ZM199.5,809.8L200.7,808.0L199.5,805.7L196.9,808.0ZM183.8,761.2L199.5,758.2L206.5,751.0L199.5,736.8L192.5,722.5L185.2,708.3L183.8,707.0L182.1,708.3L175.9,722.5L174.0,736.8L168.1,751.0ZM246.7,702.6L256.8,694.0L246.7,694.0L236.6,694.0Z"/>
<path fill="#70ff8f" stroke="#70ff8f" stroke-width="0.6" fill-rule="evenodd" d="M653.5,964.8L653.6,950.5L639.9,940.0L624.2,941.4L612.4,936.3L608.4,935.1L592.7,929.5L577.0,929.5L561.2,930.6L545.5,930.8L529.8,930.8L514.1,932.4L499.7,936.3L498.3,936.9L482.6,937.4L466.9,936.7L451.2,936.8L443.3,936.3L435.4,935.8L419.7,935.0L404.0,933.9L388.3,931.0L372.5,931.5L356.8,929.7L341.1,930.7L325.3,929.1L309.6,928.8L293.9,928.8L278.2,927.4L262.4,928.1L246.7,926.3L231.0,926.3L215.3,924.1L199.5,927.9L183.8,926.5L168.1,926.5L152.4,925.9L136.6,924.9L120.9,926.6L120.9,930.0L136.6,928.4L152.4,929.1L168.1,929.8L183.8,929.8L199.5,930.7L215.3,927.6L231.0,929.4L246.7,929.6L262.4,932.2L278.2,930.8L293.9,931.9L309.6,932.0L325.3,932.5L341.1,933.5L356.8,933.1L372.5,934.5L388.3,935.0L395.0,936.3L404.0,938.5L419.7,940.8L435.4,941.2L451.2,942.3L466.9,941.0L482.6,941.4L498.3,942.8L512.8,936.3L514.1,935.9L529.8,933.8L545.5,933.8L561.2,933.4L577.0,932.7L592.7,932.9L602.0,936.3L608.4,938.8L624.2,947.1L639.9,947.5L643.8,950.5L643.0,964.8L642.0,979.0L652.5,979.0ZM781.4,979.0L790.4,979.0L789.3,964.8L793.7,950.5L797.1,948.7L812.9,944.6L828.6,942.9L828.6,937.8L812.9,939.7L797.1,942.8L782.0,950.5L781.4,951.8L780.7,950.5L765.7,946.2L760.1,950.5L765.7,964.8L772.0,979.0ZM136.6,758.2L143.6,751.0L137.8,736.8L136.6,735.5L135.2,736.8L129.6,751.0ZM152.4,701.7L158.6,694.0L152.4,694.0L143.2,694.0Z"/>
<path fill="#bfff40" stroke="#bfff40" stroke-width="0.6" fill-rule="evenodd" d="M624.2,964.8L627.3,979.0L639.9,979.0L642.0,979.0L643.0,964.8L643.8,950.5L639.9,947.5L624.2,947.1L608.4,938.8L602.0,936.3L592.7,932.9L577.0,932.7L561.2,933.4L545.5,933.8L529.8,933.8L514.1,935.9L512.8,936.3L498.3,942.8L482.6,941.4L466.9,941.0L451.2,942.3L435.4,941.2L419.7,940.8L404.0,938.5L395.0,936.3L388.3,935.0L372.5,934.5L356.8,933.1L341.1,933.5L325.3,932.5L309.6,932.0L293.9,931.9L278.2,930.8L262.4,932.2L246.7,929.6L231.0,929.4L215.3,927.6L199.5,930.7L183.8,929.8L168.1,929.8L152.4,929.1L136.6,928.4L120.9,930.0L120.9,933.3L136.6,932.0L152.4,932.4L168.1,933.0L183.8,933.0L199.5,933.5L215.3,931.0L231.0,932.5L246.7,932.9L262.4,936.3L278.2,934.2L293.9,935.0L309.6,935.3L325.3,935.9L341.1,936.3L356.8,936.7L372.5,938.4L388.3,941.0L404.0,944.2L419.7,947.3L435.4,946.7L451.2,947.8L466.9,945.3L482.6,945.4L498.3,948.7L514.1,940.5L529.8,937.1L545.5,937.1L561.2,936.3L577.0,935.9L592.7,936.3L608.4,942.3L621.8,950.5ZM797.1,979.0L812.9,979.0L819.6,979.0L812.9,964.8L809.4,950.5L812.9,949.5L828.6,948.0L828.6,942.9L812.9,944.6L797.1,948.7L793.7,950.5L789.3,964.8L790.4,979.0Z"/>
<path fill="#ffef00" stroke="#ffef00" stroke-width="0.6" fill-rule="evenodd" d="M451.2,979.0L466.9,979.0L482.6,979.0L487.9,979.0L484.0,964.8L482.6,962.7L480.4,964.8L466.9,979.0L460.1,964.8L462.4,950.5L466.9,949.6L482.6,949.3L487.3,950.5L498.3,958.8L504.5,950.5L514.1,945.3L529.8,941.4L545.5,941.3L561.2,941.7L577.0,940.1L592.7,941.5L608.4,945.9L616.0,950.5L614.3,964.8L608.4,974.3L605.8,979.0L608.4,979.0L624.2,979.0L627.3,979.0L624.2,964.8L621.8,950.5L608.4,942.3L592.7,936.3L577.0,935.9L561.2,936.3L545.5,937.1L529.8,937.1L514.1,940.5L498.3,948.7L482.6,945.4L466.9,945.3L451.2,947.8L435.4,946.7L419.7,947.3L404.0,944.2L388.3,941.0L372.5,938.4L356.8,936.7L341.1,936.3L325.3,935.9L309.6,935.3L293.9,935.0L278.2,934.2L262.4,936.3L246.7,932.9L231.0,932.5L215.3,931.0L199.5,933.5L183.8,933.0L168.1,933.0L152.4,932.4L136.6,932.0L120.9,933.3L120.9,936.3L120.9,936.7L126.1,936.3L136.6,935.5L152.4,935.6L168.1,936.3L183.8,936.3L199.5,936.3L215.3,934.5L231.0,935.6L246.7,936.3L262.4,942.7L278.2,938.2L293.9,938.8L309.6,938.3L325.3,940.0L341.1,939.6L356.8,940.9L372.5,943.6L388.3,947.8L404.0,949.9L406.6,950.5L419.7,958.4L435.4,959.1L440.7,964.8L441.3,979.0ZM828.6,979.0L828.6,964.8L828.6,950.5L828.6,948.0L812.9,949.5L809.4,950.5L812.9,964.8L819.6,979.0Z"/>
<path fill="#ffaf00" stroke="#ffaf00" stroke-width="0.6" fill-rule="evenodd" d="M372.5,979.0L388.3,979.0L395.4,979.0L404.0,964.8L413.4,979.0L419.7,979.0L435.4,979.0L441.3,979.0L440.7,964.8L435.4,959.1L419.7,958.4L406.6,950.5L404.0,949.9L388.3,947.8L372.5,943.6L356.8,940.9L341.1,939.6L325.3,940.0L309.6,938.3L293.9,938.8L278.2,938.2L262.4,942.7L246.7,936.3L231.0,935.6L215.3,934.5L199.5,936.3L183.8,936.3L168.1,936.3L152.4,935.6L136.6,935.5L126.1,936.3L120.9,936.7L120.9,941.2L136.6,941.0L152.4,940.1L168.1,941.2L183.8,939.9L199.5,939.7L215.3,938.8L231.0,939.9L246.7,940.9L262.4,949.2L278.2,942.9L293.9,943.0L309.6,941.3L325.3,944.2L341.1,942.9L356.8,945.1L372.5,948.9L377.8,950.5L378.4,964.8L372.5,979.0ZM466.9,979.0L480.4,964.8L482.6,962.7L484.0,964.8L487.9,979.0L496.6,979.0L498.3,974.9L502.8,979.0L514.1,979.0L521.9,979.0L516.0,964.8L514.1,957.6L513.2,950.5L514.1,950.0L529.8,945.8L545.5,945.5L561.2,947.2L577.0,944.5L592.7,946.8L608.4,949.4L610.2,950.5L608.4,956.6L602.1,964.8L597.1,979.0L605.8,979.0L608.4,974.3L614.3,964.8L616.0,950.5L608.4,945.9L592.7,941.5L577.0,940.1L561.2,941.7L545.5,941.3L529.8,941.4L514.1,945.3L504.5,950.5L498.3,958.8L487.3,950.5L482.6,949.3L466.9,949.6L462.4,950.5L460.1,964.8Z"/>
<path fill="#ff6000" stroke="#ff6000" stroke-width="0.6" fill-rule="evenodd" d="M262.4,979.0L270.3,979.0L269.6,964.8L271.4,950.5L278.2,947.7L293.9,947.2L309.6,944.3L325.3,948.4L341.1,946.2L356.8,949.2L361.5,950.5L360.3,964.8L356.8,979.0L372.5,979.0L378.4,964.8L377.8,950.5L372.5,948.9L356.8,945.1L341.1,942.9L325.3,944.2L309.6,941.3L293.9,943.0L278.2,942.9L262.4,949.2L246.7,940.9L231.0,939.9L215.3,938.8L199.5,939.7L183.8,939.9L168.1,941.2L152.4,940.1L136.6,941.0L120.9,941.2L120.9,945.6L136.6,946.9L152.4,944.8L168.1,946.1L183.8,943.6L199.5,943.2L215.3,943.9L231.0,944.5L246.7,945.4L255.8,950.5L255.3,964.8L254.6,979.0ZM325.3,979.0L333.9,979.0L325.3,964.8L320.6,979.0ZM404.0,979.0L413.4,979.0L404.0,964.8L395.4,979.0ZM498.3,979.0L502.8,979.0L498.3,974.9L496.6,979.0ZM529.8,979.0L545.5,979.0L555.3,979.0L561.2,964.8L569.1,950.5L577.0,948.8L586.0,950.5L585.7,964.8L584.8,979.0L592.7,979.0L597.1,979.0L602.1,964.8L608.4,956.6L610.2,950.5L608.4,949.4L592.7,946.8L577.0,944.5L561.2,947.2L545.5,945.5L529.8,945.8L514.1,950.0L513.2,950.5L514.1,957.6L516.0,964.8L521.9,979.0ZM528.2,950.5L529.8,950.1L545.5,949.7L550.8,950.5L545.5,957.6L529.8,954.1Z"/>
<path fill="#ff1000" stroke="#ff1000" stroke-width="0.6" fill-rule="evenodd" d="M136.6,979.0L146.5,979.0L144.5,964.8L147.1,950.5L152.4,949.6L162.8,950.5L168.1,954.1L169.7,950.5L183.8,947.2L199.5,946.7L215.3,949.0L231.0,949.1L246.7,950.0L247.5,950.5L246.7,953.4L231.0,961.2L215.3,957.6L199.5,964.8L183.8,979.0L199.5,979.0L215.3,979.0L231.0,979.0L246.7,979.0L254.6,979.0L255.3,964.8L255.8,950.5L246.7,945.4L231.0,944.5L215.3,943.9L199.5,943.2L183.8,943.6L168.1,946.1L152.4,944.8L136.6,946.9L120.9,945.6L120.9,950.1L124.0,950.5L120.9,964.8L120.9,979.0ZM278.2,979.0L293.9,979.0L297.0,979.0L296.5,964.8L296.3,950.5L309.6,947.2L320.4,950.5L314.9,964.8L312.8,979.0L320.6,979.0L325.3,964.8L333.9,979.0L341.1,979.0L356.8,979.0L360.3,964.8L361.5,950.5L356.8,949.2L341.1,946.2L325.3,948.4L309.6,944.3L293.9,947.2L278.2,947.7L271.4,950.5L269.6,964.8L270.3,979.0ZM335.2,950.5L341.1,949.5L345.8,950.5L341.1,964.8ZM561.2,979.0L577.0,979.0L584.8,979.0L585.7,964.8L586.0,950.5L577.0,948.8L569.1,950.5L561.2,964.8L555.3,979.0ZM529.8,954.1L545.5,957.6L550.8,950.5L545.5,949.7L529.8,950.1L528.2,950.5Z"/>
<path fill="#bf0000" stroke="#bf0000" stroke-width="0.6" fill-rule="evenodd" d="M152.4,979.0L168.1,979.0L183.8,979.0L199.5,964.8L215.3,957.6L231.0,961.2L246.7,953.4L247.5,950.5L246.7,950.0L231.0,949.1L215.3,949.0L199.5,946.7L183.8,947.2L169.7,950.5L168.1,954.1L162.8,950.5L152.4,949.6L147.1,950.5L144.5,964.8L146.5,979.0ZM191.7,950.5L199.5,950.2L201.5,950.5L199.5,951.8ZM309.6,979.0L312.8,979.0L314.9,964.8L320.4,950.5L309.6,947.2L296.3,950.5L296.5,964.8L297.0,979.0ZM308.4,950.5L309.6,950.2L310.6,950.5L309.6,952.9ZM124.0,950.5L120.9,950.1L120.9,950.5L120.9,964.8ZM341.1,964.8L345.8,950.5L341.1,949.5L335.2,950.5Z"/>
<path fill="#800000" stroke="#800000" stroke-width="0.6" fill-rule="evenodd" d="M199.5,951.8L201.5,950.5L199.5,950.2L191.7,950.5ZM309.6,952.9L310.6,950.5L309.6,950.2L308.4,950.5Z"/>
<path d="M199.5,979.0v-10M199.5,694.05v10M278.2,979.0v-10M278.2,694.05v10M356.8,979.0v-10M356.8,694.05v10M435.4,979.0v-10M435.4,694.05v10M514.1,979.0v-10M514.1,694.05v10M592.7,979.0v-10M592.7,694.05v10M671.3,979.0v-10M671.3,694.05v10M750.0,979.0v-10M750.0,694.05v10M120.9,907.8h10M828.6,907.8h-10M120.9,836.5h10M828.6,836.5h-10M120.9,765.3h10M828.6,765.3h-10" stroke="#000" stroke-width="1.6" fill="none"/>
<path d="M120.9,979.65V694.05H829.2" fill="none" stroke="#000" stroke-width="1.8" stroke-linejoin="miter"/>
<path d="M120.0,979.0H828.6V693.15" fill="none" stroke="#000" stroke-width="1.3" stroke-linejoin="miter"/>
<g fill="none" stroke="#ff0000" stroke-width="2.6"><circle cx="730.3" cy="695.2" r="7.8"/><circle cx="750.0" cy="695.2" r="7.8"/><circle cx="769.6" cy="695.2" r="7.8"/><circle cx="730.3" cy="709.5" r="7.8"/><circle cx="726.4" cy="763.6" r="7.8"/><rect x="762.8" y="722.9" width="13.6" height="13.6"/></g>
<text class="b" transform="translate(109.2,991.6) scale(1.04,1.08)" text-anchor="end" stroke="#fff" stroke-width="0.7">45</text>
<text class="b" transform="translate(109.2,920.4) scale(1.04,1.08)" text-anchor="end" stroke="#fff" stroke-width="0.7">50</text>
<text class="b" transform="translate(109.2,849.1) scale(1.04,1.08)" text-anchor="end" stroke="#fff" stroke-width="0.7">55</text>
<text class="b" transform="translate(109.2,777.9) scale(1.04,1.08)" text-anchor="end" stroke="#fff" stroke-width="0.7">60</text>
<text class="b" transform="translate(109.2,706.6) scale(1.04,1.08)" text-anchor="end" stroke="#fff" stroke-width="0.7">65</text>
<text class="r" transform="translate(47.5,842.6) rotate(-90)" x="-150.4" textLength="300.8" lengthAdjust="spacing">Incident angle <tspan class="i">θ</tspan> [deg]</text>
<rect x="861" y="759.5" width="37" height="219.25" fill="#00008f"/><rect x="861" y="759.5" width="37" height="215.82" fill="#00009f"/><rect x="861" y="759.5" width="37" height="212.40" fill="#0000af"/><rect x="861" y="759.5" width="37" height="208.97" fill="#0000bf"/><rect x="861" y="759.5" width="37" height="205.55" fill="#0000cf"/><rect x="861" y="759.5" width="37" height="202.12" fill="#0000df"/><rect x="861" y="759.5" width="37" height="198.70" fill="#0000ef"/><rect x="861" y="759.5" width="37" height="195.27" fill="#0000ff"/><rect x="861" y="759.5" width="37" height="191.84" fill="#0010ff"/><rect x="861" y="759.5" width="37" height="188.42" fill="#0020ff"/><rect x="861" y="759.5" width="37" height="184.99" fill="#0030ff"/><rect x="861" y="759.5" width="37" height="181.57" fill="#0040ff"/><rect x="861" y="759.5" width="37" height="178.14" fill="#0050ff"/><rect x="861" y="759.5" width="37" height="174.71" fill="#0060ff"/><rect x="861" y="759.5" width="37" height="171.29" fill="#0070ff"/><rect x="861" y="759.5" width="37" height="167.86" fill="#0080ff"/><rect x="861" y="759.5" width="37" height="164.44" fill="#008fff"/><rect x="861" y="759.5" width="37" height="161.01" fill="#009fff"/><rect x="861" y="759.5" width="37" height="157.59" fill="#00afff"/><rect x="861" y="759.5" width="37" height="154.16" fill="#00bfff"/><rect x="861" y="759.5" width="37" height="150.73" fill="#00cfff"/><rect x="861" y="759.5" width="37" height="147.31" fill="#00dfff"/><rect x="861" y="759.5" width="37" height="143.88" fill="#00efff"/><rect x="861" y="759.5" width="37" height="140.46" fill="#00ffff"/><rect x="861" y="759.5" width="37" height="137.03" fill="#10ffef"/><rect x="861" y="759.5" width="37" height="133.61" fill="#20ffdf"/><rect x="861" y="759.5" width="37" height="130.18" fill="#30ffcf"/><rect x="861" y="759.5" width="37" height="126.75" fill="#40ffbf"/><rect x="861" y="759.5" width="37" height="123.33" fill="#50ffaf"/><rect x="861" y="759.5" width="37" height="119.90" fill="#60ff9f"/><rect x="861" y="759.5" width="37" height="116.48" fill="#70ff8f"/><rect x="861" y="759.5" width="37" height="113.05" fill="#80ff80"/><rect x="861" y="759.5" width="37" height="109.62" fill="#8fff70"/><rect x="861" y="759.5" width="37" height="106.20" fill="#9fff60"/><rect x="861" y="759.5" width="37" height="102.77" fill="#afff50"/><rect x="861" y="759.5" width="37" height="99.35" fill="#bfff40"/><rect x="861" y="759.5" width="37" height="95.92" fill="#cfff30"/><rect x="861" y="759.5" width="37" height="92.50" fill="#dfff20"/><rect x="861" y="759.5" width="37" height="89.07" fill="#efff10"/><rect x="861" y="759.5" width="37" height="85.64" fill="#ffff00"/><rect x="861" y="759.5" width="37" height="82.22" fill="#ffef00"/><rect x="861" y="759.5" width="37" height="78.79" fill="#ffdf00"/><rect x="861" y="759.5" width="37" height="75.37" fill="#ffcf00"/><rect x="861" y="759.5" width="37" height="71.94" fill="#ffbf00"/><rect x="861" y="759.5" width="37" height="68.52" fill="#ffaf00"/><rect x="861" y="759.5" width="37" height="65.09" fill="#ff9f00"/><rect x="861" y="759.5" width="37" height="61.66" fill="#ff8f00"/><rect x="861" y="759.5" width="37" height="58.24" fill="#ff8000"/><rect x="861" y="759.5" width="37" height="54.81" fill="#ff7000"/><rect x="861" y="759.5" width="37" height="51.39" fill="#ff6000"/><rect x="861" y="759.5" width="37" height="47.96" fill="#ff5000"/><rect x="861" y="759.5" width="37" height="44.54" fill="#ff4000"/><rect x="861" y="759.5" width="37" height="41.11" fill="#ff3000"/><rect x="861" y="759.5" width="37" height="37.68" fill="#ff2000"/><rect x="861" y="759.5" width="37" height="34.26" fill="#ff1000"/><rect x="861" y="759.5" width="37" height="30.83" fill="#ff0000"/><rect x="861" y="759.5" width="37" height="27.41" fill="#ef0000"/><rect x="861" y="759.5" width="37" height="23.98" fill="#df0000"/><rect x="861" y="759.5" width="37" height="20.55" fill="#cf0000"/><rect x="861" y="759.5" width="37" height="17.13" fill="#bf0000"/><rect x="861" y="759.5" width="37" height="13.70" fill="#af0000"/><rect x="861" y="759.5" width="37" height="10.28" fill="#9f0000"/><rect x="861" y="759.5" width="37" height="6.85" fill="#8f0000"/><rect x="861" y="759.5" width="37" height="3.43" fill="#800000"/>
<text class="b" transform="translate(909.5,788.8) scale(1.0,1.13)" text-anchor="start" stroke="#fff" stroke-width="0.7">0.15</text>
<text class="b" transform="translate(909.5,871.8) scale(1.0,1.13)" text-anchor="start" stroke="#fff" stroke-width="0.7">0.1</text>
<text class="b" transform="translate(909.5,953.0) scale(1.0,1.13)" text-anchor="start" stroke="#fff" stroke-width="0.7">0.05</text>
<path d="M861,774.5h4M898,774.5h-4M861,857.5h4M898,857.5h-4M861,938.75h4M898,938.75h-4" stroke="#000" stroke-width="1.2" fill="none"/>
<rect x="861" y="759.5" width="37" height="219.25" fill="none" stroke="#000" stroke-width="1.6"/>
<text class="t" x="836.0" y="707.8" textLength="117" lengthAdjust="spacing"><tspan class="ti">u</tspan><tspan font-size="20.5" dy="9.2">MC</tspan><tspan dy="-8" font-size="35.5">(</tspan><tspan class="ti" dy="-1.2">w</tspan><tspan font-size="20.5" dy="9.2">2</tspan><tspan dy="-8" font-size="35.5">)</tspan></text>
<text class="t" x="896.5" y="750.9" text-anchor="middle">[nm]</text>
</g>
<text class="b" transform="translate(120.0,1023.2) scale(1.0,1.13)" text-anchor="middle" stroke="#fff" stroke-width="0.7">0</text>
<text class="b" transform="translate(198.6,1023.2) scale(1.0,1.13)" text-anchor="middle" stroke="#fff" stroke-width="0.7">10</text>
<text class="b" transform="translate(277.3,1023.2) scale(1.0,1.13)" text-anchor="middle" stroke="#fff" stroke-width="0.7">20</text>
<text class="b" transform="translate(355.9,1023.2) scale(1.0,1.13)" text-anchor="middle" stroke="#fff" stroke-width="0.7">30</text>
<text class="b" transform="translate(434.5,1023.2) scale(1.0,1.13)" text-anchor="middle" stroke="#fff" stroke-width="0.7">40</text>
<text class="b" transform="translate(513.2,1023.2) scale(1.0,1.13)" text-anchor="middle" stroke="#fff" stroke-width="0.7">50</text>
<text class="b" transform="translate(591.8,1023.2) scale(1.0,1.13)" text-anchor="middle" stroke="#fff" stroke-width="0.7">60</text>
<text class="b" transform="translate(670.4,1023.2) scale(1.0,1.13)" text-anchor="middle" stroke="#fff" stroke-width="0.7">70</text>
<text class="b" transform="translate(749.1,1023.2) scale(1.0,1.13)" text-anchor="middle" stroke="#fff" stroke-width="0.7">80</text>
<text class="b" transform="translate(827.7,1023.2) scale(1.0,1.13)" text-anchor="middle" stroke="#fff" stroke-width="0.7">90</text>
<text class="r" x="311" y="1060.6" textLength="335" lengthAdjust="spacing">Azimuthal angle <tspan class="i">ϕ</tspan> [deg]</text>
</svg></body></html>
